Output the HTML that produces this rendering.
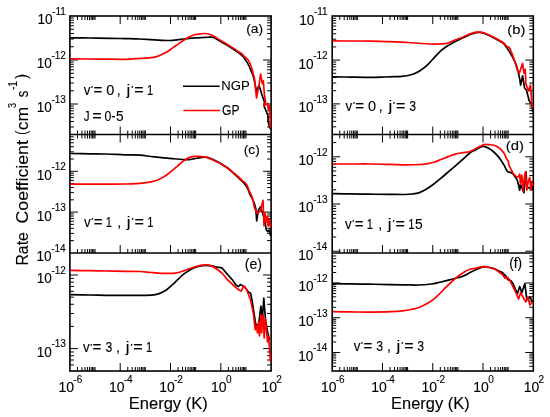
<!DOCTYPE html>
<html><head><meta charset="utf-8"><style>
html,body{margin:0;padding:0;background:#fff;width:550px;height:417px;overflow:hidden}
svg{display:block}
</style></head><body>
<svg width="550" height="417" viewBox="0 0 550 417" font-family='"Liberation Sans", "DejaVu Sans", sans-serif' fill="#000">
<rect width="550" height="417" fill="#fff"/>
<line x1="69.90" y1="127.01" x2="73.90" y2="127.01" stroke="#000" stroke-width="1.0"/>
<line x1="267.10" y1="127.01" x2="271.10" y2="127.01" stroke="#000" stroke-width="1.0"/>
<line x1="69.90" y1="121.51" x2="73.90" y2="121.51" stroke="#000" stroke-width="1.0"/>
<line x1="267.10" y1="121.51" x2="271.10" y2="121.51" stroke="#000" stroke-width="1.0"/>
<line x1="69.90" y1="117.25" x2="73.90" y2="117.25" stroke="#000" stroke-width="1.0"/>
<line x1="267.10" y1="117.25" x2="271.10" y2="117.25" stroke="#000" stroke-width="1.0"/>
<line x1="69.90" y1="113.76" x2="73.90" y2="113.76" stroke="#000" stroke-width="1.0"/>
<line x1="267.10" y1="113.76" x2="271.10" y2="113.76" stroke="#000" stroke-width="1.0"/>
<line x1="69.90" y1="110.82" x2="73.90" y2="110.82" stroke="#000" stroke-width="1.0"/>
<line x1="267.10" y1="110.82" x2="271.10" y2="110.82" stroke="#000" stroke-width="1.0"/>
<line x1="69.90" y1="108.26" x2="73.90" y2="108.26" stroke="#000" stroke-width="1.0"/>
<line x1="267.10" y1="108.26" x2="271.10" y2="108.26" stroke="#000" stroke-width="1.0"/>
<line x1="69.90" y1="106.01" x2="73.90" y2="106.01" stroke="#000" stroke-width="1.0"/>
<line x1="267.10" y1="106.01" x2="271.10" y2="106.01" stroke="#000" stroke-width="1.0"/>
<line x1="69.90" y1="104.00" x2="77.90" y2="104.00" stroke="#000" stroke-width="1.0"/>
<line x1="263.10" y1="104.00" x2="271.10" y2="104.00" stroke="#000" stroke-width="1.0"/>
<line x1="69.90" y1="90.75" x2="73.90" y2="90.75" stroke="#000" stroke-width="1.0"/>
<line x1="267.10" y1="90.75" x2="271.10" y2="90.75" stroke="#000" stroke-width="1.0"/>
<line x1="69.90" y1="83.01" x2="73.90" y2="83.01" stroke="#000" stroke-width="1.0"/>
<line x1="267.10" y1="83.01" x2="271.10" y2="83.01" stroke="#000" stroke-width="1.0"/>
<line x1="69.90" y1="77.51" x2="73.90" y2="77.51" stroke="#000" stroke-width="1.0"/>
<line x1="267.10" y1="77.51" x2="271.10" y2="77.51" stroke="#000" stroke-width="1.0"/>
<line x1="69.90" y1="73.25" x2="73.90" y2="73.25" stroke="#000" stroke-width="1.0"/>
<line x1="267.10" y1="73.25" x2="271.10" y2="73.25" stroke="#000" stroke-width="1.0"/>
<line x1="69.90" y1="69.76" x2="73.90" y2="69.76" stroke="#000" stroke-width="1.0"/>
<line x1="267.10" y1="69.76" x2="271.10" y2="69.76" stroke="#000" stroke-width="1.0"/>
<line x1="69.90" y1="66.82" x2="73.90" y2="66.82" stroke="#000" stroke-width="1.0"/>
<line x1="267.10" y1="66.82" x2="271.10" y2="66.82" stroke="#000" stroke-width="1.0"/>
<line x1="69.90" y1="64.26" x2="73.90" y2="64.26" stroke="#000" stroke-width="1.0"/>
<line x1="267.10" y1="64.26" x2="271.10" y2="64.26" stroke="#000" stroke-width="1.0"/>
<line x1="69.90" y1="62.01" x2="73.90" y2="62.01" stroke="#000" stroke-width="1.0"/>
<line x1="267.10" y1="62.01" x2="271.10" y2="62.01" stroke="#000" stroke-width="1.0"/>
<line x1="69.90" y1="60.00" x2="77.90" y2="60.00" stroke="#000" stroke-width="1.0"/>
<line x1="263.10" y1="60.00" x2="271.10" y2="60.00" stroke="#000" stroke-width="1.0"/>
<line x1="69.90" y1="46.75" x2="73.90" y2="46.75" stroke="#000" stroke-width="1.0"/>
<line x1="267.10" y1="46.75" x2="271.10" y2="46.75" stroke="#000" stroke-width="1.0"/>
<line x1="69.90" y1="39.01" x2="73.90" y2="39.01" stroke="#000" stroke-width="1.0"/>
<line x1="267.10" y1="39.01" x2="271.10" y2="39.01" stroke="#000" stroke-width="1.0"/>
<line x1="69.90" y1="33.51" x2="73.90" y2="33.51" stroke="#000" stroke-width="1.0"/>
<line x1="267.10" y1="33.51" x2="271.10" y2="33.51" stroke="#000" stroke-width="1.0"/>
<line x1="69.90" y1="29.25" x2="73.90" y2="29.25" stroke="#000" stroke-width="1.0"/>
<line x1="267.10" y1="29.25" x2="271.10" y2="29.25" stroke="#000" stroke-width="1.0"/>
<line x1="69.90" y1="25.76" x2="73.90" y2="25.76" stroke="#000" stroke-width="1.0"/>
<line x1="267.10" y1="25.76" x2="271.10" y2="25.76" stroke="#000" stroke-width="1.0"/>
<line x1="69.90" y1="22.82" x2="73.90" y2="22.82" stroke="#000" stroke-width="1.0"/>
<line x1="267.10" y1="22.82" x2="271.10" y2="22.82" stroke="#000" stroke-width="1.0"/>
<line x1="69.90" y1="20.26" x2="73.90" y2="20.26" stroke="#000" stroke-width="1.0"/>
<line x1="267.10" y1="20.26" x2="271.10" y2="20.26" stroke="#000" stroke-width="1.0"/>
<line x1="69.90" y1="18.01" x2="73.90" y2="18.01" stroke="#000" stroke-width="1.0"/>
<line x1="267.10" y1="18.01" x2="271.10" y2="18.01" stroke="#000" stroke-width="1.0"/>
<line x1="77.47" y1="134.50" x2="77.47" y2="130.50" stroke="#000" stroke-width="1.0"/>
<line x1="77.47" y1="16.00" x2="77.47" y2="20.00" stroke="#000" stroke-width="1.0"/>
<line x1="81.90" y1="134.50" x2="81.90" y2="130.50" stroke="#000" stroke-width="1.0"/>
<line x1="81.90" y1="16.00" x2="81.90" y2="20.00" stroke="#000" stroke-width="1.0"/>
<line x1="85.04" y1="134.50" x2="85.04" y2="130.50" stroke="#000" stroke-width="1.0"/>
<line x1="85.04" y1="16.00" x2="85.04" y2="20.00" stroke="#000" stroke-width="1.0"/>
<line x1="87.48" y1="134.50" x2="87.48" y2="130.50" stroke="#000" stroke-width="1.0"/>
<line x1="87.48" y1="16.00" x2="87.48" y2="20.00" stroke="#000" stroke-width="1.0"/>
<line x1="89.47" y1="134.50" x2="89.47" y2="130.50" stroke="#000" stroke-width="1.0"/>
<line x1="89.47" y1="16.00" x2="89.47" y2="20.00" stroke="#000" stroke-width="1.0"/>
<line x1="91.15" y1="134.50" x2="91.15" y2="130.50" stroke="#000" stroke-width="1.0"/>
<line x1="91.15" y1="16.00" x2="91.15" y2="20.00" stroke="#000" stroke-width="1.0"/>
<line x1="92.61" y1="134.50" x2="92.61" y2="130.50" stroke="#000" stroke-width="1.0"/>
<line x1="92.61" y1="16.00" x2="92.61" y2="20.00" stroke="#000" stroke-width="1.0"/>
<line x1="93.90" y1="134.50" x2="93.90" y2="130.50" stroke="#000" stroke-width="1.0"/>
<line x1="93.90" y1="16.00" x2="93.90" y2="20.00" stroke="#000" stroke-width="1.0"/>
<line x1="95.05" y1="134.50" x2="95.05" y2="130.50" stroke="#000" stroke-width="1.0"/>
<line x1="95.05" y1="16.00" x2="95.05" y2="20.00" stroke="#000" stroke-width="1.0"/>
<line x1="120.20" y1="134.50" x2="120.20" y2="126.50" stroke="#000" stroke-width="1.0"/>
<line x1="120.20" y1="16.00" x2="120.20" y2="24.00" stroke="#000" stroke-width="1.0"/>
<line x1="127.77" y1="134.50" x2="127.77" y2="130.50" stroke="#000" stroke-width="1.0"/>
<line x1="127.77" y1="16.00" x2="127.77" y2="20.00" stroke="#000" stroke-width="1.0"/>
<line x1="132.20" y1="134.50" x2="132.20" y2="130.50" stroke="#000" stroke-width="1.0"/>
<line x1="132.20" y1="16.00" x2="132.20" y2="20.00" stroke="#000" stroke-width="1.0"/>
<line x1="135.34" y1="134.50" x2="135.34" y2="130.50" stroke="#000" stroke-width="1.0"/>
<line x1="135.34" y1="16.00" x2="135.34" y2="20.00" stroke="#000" stroke-width="1.0"/>
<line x1="137.78" y1="134.50" x2="137.78" y2="130.50" stroke="#000" stroke-width="1.0"/>
<line x1="137.78" y1="16.00" x2="137.78" y2="20.00" stroke="#000" stroke-width="1.0"/>
<line x1="139.77" y1="134.50" x2="139.77" y2="130.50" stroke="#000" stroke-width="1.0"/>
<line x1="139.77" y1="16.00" x2="139.77" y2="20.00" stroke="#000" stroke-width="1.0"/>
<line x1="141.45" y1="134.50" x2="141.45" y2="130.50" stroke="#000" stroke-width="1.0"/>
<line x1="141.45" y1="16.00" x2="141.45" y2="20.00" stroke="#000" stroke-width="1.0"/>
<line x1="142.91" y1="134.50" x2="142.91" y2="130.50" stroke="#000" stroke-width="1.0"/>
<line x1="142.91" y1="16.00" x2="142.91" y2="20.00" stroke="#000" stroke-width="1.0"/>
<line x1="144.20" y1="134.50" x2="144.20" y2="130.50" stroke="#000" stroke-width="1.0"/>
<line x1="144.20" y1="16.00" x2="144.20" y2="20.00" stroke="#000" stroke-width="1.0"/>
<line x1="145.35" y1="134.50" x2="145.35" y2="130.50" stroke="#000" stroke-width="1.0"/>
<line x1="145.35" y1="16.00" x2="145.35" y2="20.00" stroke="#000" stroke-width="1.0"/>
<line x1="170.50" y1="134.50" x2="170.50" y2="126.50" stroke="#000" stroke-width="1.0"/>
<line x1="170.50" y1="16.00" x2="170.50" y2="24.00" stroke="#000" stroke-width="1.0"/>
<line x1="178.07" y1="134.50" x2="178.07" y2="130.50" stroke="#000" stroke-width="1.0"/>
<line x1="178.07" y1="16.00" x2="178.07" y2="20.00" stroke="#000" stroke-width="1.0"/>
<line x1="182.50" y1="134.50" x2="182.50" y2="130.50" stroke="#000" stroke-width="1.0"/>
<line x1="182.50" y1="16.00" x2="182.50" y2="20.00" stroke="#000" stroke-width="1.0"/>
<line x1="185.64" y1="134.50" x2="185.64" y2="130.50" stroke="#000" stroke-width="1.0"/>
<line x1="185.64" y1="16.00" x2="185.64" y2="20.00" stroke="#000" stroke-width="1.0"/>
<line x1="188.08" y1="134.50" x2="188.08" y2="130.50" stroke="#000" stroke-width="1.0"/>
<line x1="188.08" y1="16.00" x2="188.08" y2="20.00" stroke="#000" stroke-width="1.0"/>
<line x1="190.07" y1="134.50" x2="190.07" y2="130.50" stroke="#000" stroke-width="1.0"/>
<line x1="190.07" y1="16.00" x2="190.07" y2="20.00" stroke="#000" stroke-width="1.0"/>
<line x1="191.75" y1="134.50" x2="191.75" y2="130.50" stroke="#000" stroke-width="1.0"/>
<line x1="191.75" y1="16.00" x2="191.75" y2="20.00" stroke="#000" stroke-width="1.0"/>
<line x1="193.21" y1="134.50" x2="193.21" y2="130.50" stroke="#000" stroke-width="1.0"/>
<line x1="193.21" y1="16.00" x2="193.21" y2="20.00" stroke="#000" stroke-width="1.0"/>
<line x1="194.50" y1="134.50" x2="194.50" y2="130.50" stroke="#000" stroke-width="1.0"/>
<line x1="194.50" y1="16.00" x2="194.50" y2="20.00" stroke="#000" stroke-width="1.0"/>
<line x1="195.65" y1="134.50" x2="195.65" y2="130.50" stroke="#000" stroke-width="1.0"/>
<line x1="195.65" y1="16.00" x2="195.65" y2="20.00" stroke="#000" stroke-width="1.0"/>
<line x1="220.80" y1="134.50" x2="220.80" y2="126.50" stroke="#000" stroke-width="1.0"/>
<line x1="220.80" y1="16.00" x2="220.80" y2="24.00" stroke="#000" stroke-width="1.0"/>
<line x1="228.37" y1="134.50" x2="228.37" y2="130.50" stroke="#000" stroke-width="1.0"/>
<line x1="228.37" y1="16.00" x2="228.37" y2="20.00" stroke="#000" stroke-width="1.0"/>
<line x1="232.80" y1="134.50" x2="232.80" y2="130.50" stroke="#000" stroke-width="1.0"/>
<line x1="232.80" y1="16.00" x2="232.80" y2="20.00" stroke="#000" stroke-width="1.0"/>
<line x1="235.94" y1="134.50" x2="235.94" y2="130.50" stroke="#000" stroke-width="1.0"/>
<line x1="235.94" y1="16.00" x2="235.94" y2="20.00" stroke="#000" stroke-width="1.0"/>
<line x1="238.38" y1="134.50" x2="238.38" y2="130.50" stroke="#000" stroke-width="1.0"/>
<line x1="238.38" y1="16.00" x2="238.38" y2="20.00" stroke="#000" stroke-width="1.0"/>
<line x1="240.37" y1="134.50" x2="240.37" y2="130.50" stroke="#000" stroke-width="1.0"/>
<line x1="240.37" y1="16.00" x2="240.37" y2="20.00" stroke="#000" stroke-width="1.0"/>
<line x1="242.05" y1="134.50" x2="242.05" y2="130.50" stroke="#000" stroke-width="1.0"/>
<line x1="242.05" y1="16.00" x2="242.05" y2="20.00" stroke="#000" stroke-width="1.0"/>
<line x1="243.51" y1="134.50" x2="243.51" y2="130.50" stroke="#000" stroke-width="1.0"/>
<line x1="243.51" y1="16.00" x2="243.51" y2="20.00" stroke="#000" stroke-width="1.0"/>
<line x1="244.80" y1="134.50" x2="244.80" y2="130.50" stroke="#000" stroke-width="1.0"/>
<line x1="244.80" y1="16.00" x2="244.80" y2="20.00" stroke="#000" stroke-width="1.0"/>
<line x1="245.95" y1="134.50" x2="245.95" y2="130.50" stroke="#000" stroke-width="1.0"/>
<line x1="245.95" y1="16.00" x2="245.95" y2="20.00" stroke="#000" stroke-width="1.0"/>
<line x1="332.20" y1="126.80" x2="336.20" y2="126.80" stroke="#000" stroke-width="1.0"/>
<line x1="529.30" y1="126.80" x2="533.30" y2="126.80" stroke="#000" stroke-width="1.0"/>
<line x1="332.20" y1="121.33" x2="336.20" y2="121.33" stroke="#000" stroke-width="1.0"/>
<line x1="529.30" y1="121.33" x2="533.30" y2="121.33" stroke="#000" stroke-width="1.0"/>
<line x1="332.20" y1="117.09" x2="336.20" y2="117.09" stroke="#000" stroke-width="1.0"/>
<line x1="529.30" y1="117.09" x2="533.30" y2="117.09" stroke="#000" stroke-width="1.0"/>
<line x1="332.20" y1="113.62" x2="336.20" y2="113.62" stroke="#000" stroke-width="1.0"/>
<line x1="529.30" y1="113.62" x2="533.30" y2="113.62" stroke="#000" stroke-width="1.0"/>
<line x1="332.20" y1="110.68" x2="336.20" y2="110.68" stroke="#000" stroke-width="1.0"/>
<line x1="529.30" y1="110.68" x2="533.30" y2="110.68" stroke="#000" stroke-width="1.0"/>
<line x1="332.20" y1="108.14" x2="336.20" y2="108.14" stroke="#000" stroke-width="1.0"/>
<line x1="529.30" y1="108.14" x2="533.30" y2="108.14" stroke="#000" stroke-width="1.0"/>
<line x1="332.20" y1="105.90" x2="336.20" y2="105.90" stroke="#000" stroke-width="1.0"/>
<line x1="529.30" y1="105.90" x2="533.30" y2="105.90" stroke="#000" stroke-width="1.0"/>
<line x1="332.20" y1="103.90" x2="340.20" y2="103.90" stroke="#000" stroke-width="1.0"/>
<line x1="525.30" y1="103.90" x2="533.30" y2="103.90" stroke="#000" stroke-width="1.0"/>
<line x1="332.20" y1="90.71" x2="336.20" y2="90.71" stroke="#000" stroke-width="1.0"/>
<line x1="529.30" y1="90.71" x2="533.30" y2="90.71" stroke="#000" stroke-width="1.0"/>
<line x1="332.20" y1="83.00" x2="336.20" y2="83.00" stroke="#000" stroke-width="1.0"/>
<line x1="529.30" y1="83.00" x2="533.30" y2="83.00" stroke="#000" stroke-width="1.0"/>
<line x1="332.20" y1="77.53" x2="336.20" y2="77.53" stroke="#000" stroke-width="1.0"/>
<line x1="529.30" y1="77.53" x2="533.30" y2="77.53" stroke="#000" stroke-width="1.0"/>
<line x1="332.20" y1="73.29" x2="336.20" y2="73.29" stroke="#000" stroke-width="1.0"/>
<line x1="529.30" y1="73.29" x2="533.30" y2="73.29" stroke="#000" stroke-width="1.0"/>
<line x1="332.20" y1="69.82" x2="336.20" y2="69.82" stroke="#000" stroke-width="1.0"/>
<line x1="529.30" y1="69.82" x2="533.30" y2="69.82" stroke="#000" stroke-width="1.0"/>
<line x1="332.20" y1="66.88" x2="336.20" y2="66.88" stroke="#000" stroke-width="1.0"/>
<line x1="529.30" y1="66.88" x2="533.30" y2="66.88" stroke="#000" stroke-width="1.0"/>
<line x1="332.20" y1="64.34" x2="336.20" y2="64.34" stroke="#000" stroke-width="1.0"/>
<line x1="529.30" y1="64.34" x2="533.30" y2="64.34" stroke="#000" stroke-width="1.0"/>
<line x1="332.20" y1="62.10" x2="336.20" y2="62.10" stroke="#000" stroke-width="1.0"/>
<line x1="529.30" y1="62.10" x2="533.30" y2="62.10" stroke="#000" stroke-width="1.0"/>
<line x1="332.20" y1="60.10" x2="340.20" y2="60.10" stroke="#000" stroke-width="1.0"/>
<line x1="525.30" y1="60.10" x2="533.30" y2="60.10" stroke="#000" stroke-width="1.0"/>
<line x1="332.20" y1="46.91" x2="336.20" y2="46.91" stroke="#000" stroke-width="1.0"/>
<line x1="529.30" y1="46.91" x2="533.30" y2="46.91" stroke="#000" stroke-width="1.0"/>
<line x1="332.20" y1="39.20" x2="336.20" y2="39.20" stroke="#000" stroke-width="1.0"/>
<line x1="529.30" y1="39.20" x2="533.30" y2="39.20" stroke="#000" stroke-width="1.0"/>
<line x1="332.20" y1="33.73" x2="336.20" y2="33.73" stroke="#000" stroke-width="1.0"/>
<line x1="529.30" y1="33.73" x2="533.30" y2="33.73" stroke="#000" stroke-width="1.0"/>
<line x1="332.20" y1="29.49" x2="336.20" y2="29.49" stroke="#000" stroke-width="1.0"/>
<line x1="529.30" y1="29.49" x2="533.30" y2="29.49" stroke="#000" stroke-width="1.0"/>
<line x1="332.20" y1="26.02" x2="336.20" y2="26.02" stroke="#000" stroke-width="1.0"/>
<line x1="529.30" y1="26.02" x2="533.30" y2="26.02" stroke="#000" stroke-width="1.0"/>
<line x1="332.20" y1="23.08" x2="336.20" y2="23.08" stroke="#000" stroke-width="1.0"/>
<line x1="529.30" y1="23.08" x2="533.30" y2="23.08" stroke="#000" stroke-width="1.0"/>
<line x1="332.20" y1="20.54" x2="336.20" y2="20.54" stroke="#000" stroke-width="1.0"/>
<line x1="529.30" y1="20.54" x2="533.30" y2="20.54" stroke="#000" stroke-width="1.0"/>
<line x1="332.20" y1="18.30" x2="336.20" y2="18.30" stroke="#000" stroke-width="1.0"/>
<line x1="529.30" y1="18.30" x2="533.30" y2="18.30" stroke="#000" stroke-width="1.0"/>
<line x1="339.77" y1="134.50" x2="339.77" y2="130.50" stroke="#000" stroke-width="1.0"/>
<line x1="339.77" y1="16.00" x2="339.77" y2="20.00" stroke="#000" stroke-width="1.0"/>
<line x1="344.19" y1="134.50" x2="344.19" y2="130.50" stroke="#000" stroke-width="1.0"/>
<line x1="344.19" y1="16.00" x2="344.19" y2="20.00" stroke="#000" stroke-width="1.0"/>
<line x1="347.33" y1="134.50" x2="347.33" y2="130.50" stroke="#000" stroke-width="1.0"/>
<line x1="347.33" y1="16.00" x2="347.33" y2="20.00" stroke="#000" stroke-width="1.0"/>
<line x1="349.77" y1="134.50" x2="349.77" y2="130.50" stroke="#000" stroke-width="1.0"/>
<line x1="349.77" y1="16.00" x2="349.77" y2="20.00" stroke="#000" stroke-width="1.0"/>
<line x1="351.76" y1="134.50" x2="351.76" y2="130.50" stroke="#000" stroke-width="1.0"/>
<line x1="351.76" y1="16.00" x2="351.76" y2="20.00" stroke="#000" stroke-width="1.0"/>
<line x1="353.44" y1="134.50" x2="353.44" y2="130.50" stroke="#000" stroke-width="1.0"/>
<line x1="353.44" y1="16.00" x2="353.44" y2="20.00" stroke="#000" stroke-width="1.0"/>
<line x1="354.90" y1="134.50" x2="354.90" y2="130.50" stroke="#000" stroke-width="1.0"/>
<line x1="354.90" y1="16.00" x2="354.90" y2="20.00" stroke="#000" stroke-width="1.0"/>
<line x1="356.19" y1="134.50" x2="356.19" y2="130.50" stroke="#000" stroke-width="1.0"/>
<line x1="356.19" y1="16.00" x2="356.19" y2="20.00" stroke="#000" stroke-width="1.0"/>
<line x1="357.34" y1="134.50" x2="357.34" y2="130.50" stroke="#000" stroke-width="1.0"/>
<line x1="357.34" y1="16.00" x2="357.34" y2="20.00" stroke="#000" stroke-width="1.0"/>
<line x1="382.47" y1="134.50" x2="382.47" y2="126.50" stroke="#000" stroke-width="1.0"/>
<line x1="382.47" y1="16.00" x2="382.47" y2="24.00" stroke="#000" stroke-width="1.0"/>
<line x1="390.04" y1="134.50" x2="390.04" y2="130.50" stroke="#000" stroke-width="1.0"/>
<line x1="390.04" y1="16.00" x2="390.04" y2="20.00" stroke="#000" stroke-width="1.0"/>
<line x1="394.47" y1="134.50" x2="394.47" y2="130.50" stroke="#000" stroke-width="1.0"/>
<line x1="394.47" y1="16.00" x2="394.47" y2="20.00" stroke="#000" stroke-width="1.0"/>
<line x1="397.61" y1="134.50" x2="397.61" y2="130.50" stroke="#000" stroke-width="1.0"/>
<line x1="397.61" y1="16.00" x2="397.61" y2="20.00" stroke="#000" stroke-width="1.0"/>
<line x1="400.05" y1="134.50" x2="400.05" y2="130.50" stroke="#000" stroke-width="1.0"/>
<line x1="400.05" y1="16.00" x2="400.05" y2="20.00" stroke="#000" stroke-width="1.0"/>
<line x1="402.04" y1="134.50" x2="402.04" y2="130.50" stroke="#000" stroke-width="1.0"/>
<line x1="402.04" y1="16.00" x2="402.04" y2="20.00" stroke="#000" stroke-width="1.0"/>
<line x1="403.72" y1="134.50" x2="403.72" y2="130.50" stroke="#000" stroke-width="1.0"/>
<line x1="403.72" y1="16.00" x2="403.72" y2="20.00" stroke="#000" stroke-width="1.0"/>
<line x1="405.18" y1="134.50" x2="405.18" y2="130.50" stroke="#000" stroke-width="1.0"/>
<line x1="405.18" y1="16.00" x2="405.18" y2="20.00" stroke="#000" stroke-width="1.0"/>
<line x1="406.46" y1="134.50" x2="406.46" y2="130.50" stroke="#000" stroke-width="1.0"/>
<line x1="406.46" y1="16.00" x2="406.46" y2="20.00" stroke="#000" stroke-width="1.0"/>
<line x1="407.61" y1="134.50" x2="407.61" y2="130.50" stroke="#000" stroke-width="1.0"/>
<line x1="407.61" y1="16.00" x2="407.61" y2="20.00" stroke="#000" stroke-width="1.0"/>
<line x1="432.75" y1="134.50" x2="432.75" y2="126.50" stroke="#000" stroke-width="1.0"/>
<line x1="432.75" y1="16.00" x2="432.75" y2="24.00" stroke="#000" stroke-width="1.0"/>
<line x1="440.32" y1="134.50" x2="440.32" y2="130.50" stroke="#000" stroke-width="1.0"/>
<line x1="440.32" y1="16.00" x2="440.32" y2="20.00" stroke="#000" stroke-width="1.0"/>
<line x1="444.74" y1="134.50" x2="444.74" y2="130.50" stroke="#000" stroke-width="1.0"/>
<line x1="444.74" y1="16.00" x2="444.74" y2="20.00" stroke="#000" stroke-width="1.0"/>
<line x1="447.88" y1="134.50" x2="447.88" y2="130.50" stroke="#000" stroke-width="1.0"/>
<line x1="447.88" y1="16.00" x2="447.88" y2="20.00" stroke="#000" stroke-width="1.0"/>
<line x1="450.32" y1="134.50" x2="450.32" y2="130.50" stroke="#000" stroke-width="1.0"/>
<line x1="450.32" y1="16.00" x2="450.32" y2="20.00" stroke="#000" stroke-width="1.0"/>
<line x1="452.31" y1="134.50" x2="452.31" y2="130.50" stroke="#000" stroke-width="1.0"/>
<line x1="452.31" y1="16.00" x2="452.31" y2="20.00" stroke="#000" stroke-width="1.0"/>
<line x1="453.99" y1="134.50" x2="453.99" y2="130.50" stroke="#000" stroke-width="1.0"/>
<line x1="453.99" y1="16.00" x2="453.99" y2="20.00" stroke="#000" stroke-width="1.0"/>
<line x1="455.45" y1="134.50" x2="455.45" y2="130.50" stroke="#000" stroke-width="1.0"/>
<line x1="455.45" y1="16.00" x2="455.45" y2="20.00" stroke="#000" stroke-width="1.0"/>
<line x1="456.74" y1="134.50" x2="456.74" y2="130.50" stroke="#000" stroke-width="1.0"/>
<line x1="456.74" y1="16.00" x2="456.74" y2="20.00" stroke="#000" stroke-width="1.0"/>
<line x1="457.89" y1="134.50" x2="457.89" y2="130.50" stroke="#000" stroke-width="1.0"/>
<line x1="457.89" y1="16.00" x2="457.89" y2="20.00" stroke="#000" stroke-width="1.0"/>
<line x1="483.02" y1="134.50" x2="483.02" y2="126.50" stroke="#000" stroke-width="1.0"/>
<line x1="483.02" y1="16.00" x2="483.02" y2="24.00" stroke="#000" stroke-width="1.0"/>
<line x1="490.59" y1="134.50" x2="490.59" y2="130.50" stroke="#000" stroke-width="1.0"/>
<line x1="490.59" y1="16.00" x2="490.59" y2="20.00" stroke="#000" stroke-width="1.0"/>
<line x1="495.02" y1="134.50" x2="495.02" y2="130.50" stroke="#000" stroke-width="1.0"/>
<line x1="495.02" y1="16.00" x2="495.02" y2="20.00" stroke="#000" stroke-width="1.0"/>
<line x1="498.16" y1="134.50" x2="498.16" y2="130.50" stroke="#000" stroke-width="1.0"/>
<line x1="498.16" y1="16.00" x2="498.16" y2="20.00" stroke="#000" stroke-width="1.0"/>
<line x1="500.60" y1="134.50" x2="500.60" y2="130.50" stroke="#000" stroke-width="1.0"/>
<line x1="500.60" y1="16.00" x2="500.60" y2="20.00" stroke="#000" stroke-width="1.0"/>
<line x1="502.59" y1="134.50" x2="502.59" y2="130.50" stroke="#000" stroke-width="1.0"/>
<line x1="502.59" y1="16.00" x2="502.59" y2="20.00" stroke="#000" stroke-width="1.0"/>
<line x1="504.27" y1="134.50" x2="504.27" y2="130.50" stroke="#000" stroke-width="1.0"/>
<line x1="504.27" y1="16.00" x2="504.27" y2="20.00" stroke="#000" stroke-width="1.0"/>
<line x1="505.73" y1="134.50" x2="505.73" y2="130.50" stroke="#000" stroke-width="1.0"/>
<line x1="505.73" y1="16.00" x2="505.73" y2="20.00" stroke="#000" stroke-width="1.0"/>
<line x1="507.01" y1="134.50" x2="507.01" y2="130.50" stroke="#000" stroke-width="1.0"/>
<line x1="507.01" y1="16.00" x2="507.01" y2="20.00" stroke="#000" stroke-width="1.0"/>
<line x1="508.16" y1="134.50" x2="508.16" y2="130.50" stroke="#000" stroke-width="1.0"/>
<line x1="508.16" y1="16.00" x2="508.16" y2="20.00" stroke="#000" stroke-width="1.0"/>
<line x1="69.90" y1="240.62" x2="73.90" y2="240.62" stroke="#000" stroke-width="1.0"/>
<line x1="267.10" y1="240.62" x2="271.10" y2="240.62" stroke="#000" stroke-width="1.0"/>
<line x1="69.90" y1="233.43" x2="73.90" y2="233.43" stroke="#000" stroke-width="1.0"/>
<line x1="267.10" y1="233.43" x2="271.10" y2="233.43" stroke="#000" stroke-width="1.0"/>
<line x1="69.90" y1="228.34" x2="73.90" y2="228.34" stroke="#000" stroke-width="1.0"/>
<line x1="267.10" y1="228.34" x2="271.10" y2="228.34" stroke="#000" stroke-width="1.0"/>
<line x1="69.90" y1="224.38" x2="73.90" y2="224.38" stroke="#000" stroke-width="1.0"/>
<line x1="267.10" y1="224.38" x2="271.10" y2="224.38" stroke="#000" stroke-width="1.0"/>
<line x1="69.90" y1="221.15" x2="73.90" y2="221.15" stroke="#000" stroke-width="1.0"/>
<line x1="267.10" y1="221.15" x2="271.10" y2="221.15" stroke="#000" stroke-width="1.0"/>
<line x1="69.90" y1="218.42" x2="73.90" y2="218.42" stroke="#000" stroke-width="1.0"/>
<line x1="267.10" y1="218.42" x2="271.10" y2="218.42" stroke="#000" stroke-width="1.0"/>
<line x1="69.90" y1="216.05" x2="73.90" y2="216.05" stroke="#000" stroke-width="1.0"/>
<line x1="267.10" y1="216.05" x2="271.10" y2="216.05" stroke="#000" stroke-width="1.0"/>
<line x1="69.90" y1="213.97" x2="73.90" y2="213.97" stroke="#000" stroke-width="1.0"/>
<line x1="267.10" y1="213.97" x2="271.10" y2="213.97" stroke="#000" stroke-width="1.0"/>
<line x1="69.90" y1="212.10" x2="77.90" y2="212.10" stroke="#000" stroke-width="1.0"/>
<line x1="263.10" y1="212.10" x2="271.10" y2="212.10" stroke="#000" stroke-width="1.0"/>
<line x1="69.90" y1="199.82" x2="73.90" y2="199.82" stroke="#000" stroke-width="1.0"/>
<line x1="267.10" y1="199.82" x2="271.10" y2="199.82" stroke="#000" stroke-width="1.0"/>
<line x1="69.90" y1="192.63" x2="73.90" y2="192.63" stroke="#000" stroke-width="1.0"/>
<line x1="267.10" y1="192.63" x2="271.10" y2="192.63" stroke="#000" stroke-width="1.0"/>
<line x1="69.90" y1="187.54" x2="73.90" y2="187.54" stroke="#000" stroke-width="1.0"/>
<line x1="267.10" y1="187.54" x2="271.10" y2="187.54" stroke="#000" stroke-width="1.0"/>
<line x1="69.90" y1="183.58" x2="73.90" y2="183.58" stroke="#000" stroke-width="1.0"/>
<line x1="267.10" y1="183.58" x2="271.10" y2="183.58" stroke="#000" stroke-width="1.0"/>
<line x1="69.90" y1="180.35" x2="73.90" y2="180.35" stroke="#000" stroke-width="1.0"/>
<line x1="267.10" y1="180.35" x2="271.10" y2="180.35" stroke="#000" stroke-width="1.0"/>
<line x1="69.90" y1="177.62" x2="73.90" y2="177.62" stroke="#000" stroke-width="1.0"/>
<line x1="267.10" y1="177.62" x2="271.10" y2="177.62" stroke="#000" stroke-width="1.0"/>
<line x1="69.90" y1="175.25" x2="73.90" y2="175.25" stroke="#000" stroke-width="1.0"/>
<line x1="267.10" y1="175.25" x2="271.10" y2="175.25" stroke="#000" stroke-width="1.0"/>
<line x1="69.90" y1="173.17" x2="73.90" y2="173.17" stroke="#000" stroke-width="1.0"/>
<line x1="267.10" y1="173.17" x2="271.10" y2="173.17" stroke="#000" stroke-width="1.0"/>
<line x1="69.90" y1="171.30" x2="77.90" y2="171.30" stroke="#000" stroke-width="1.0"/>
<line x1="263.10" y1="171.30" x2="271.10" y2="171.30" stroke="#000" stroke-width="1.0"/>
<line x1="69.90" y1="159.02" x2="73.90" y2="159.02" stroke="#000" stroke-width="1.0"/>
<line x1="267.10" y1="159.02" x2="271.10" y2="159.02" stroke="#000" stroke-width="1.0"/>
<line x1="69.90" y1="151.83" x2="73.90" y2="151.83" stroke="#000" stroke-width="1.0"/>
<line x1="267.10" y1="151.83" x2="271.10" y2="151.83" stroke="#000" stroke-width="1.0"/>
<line x1="69.90" y1="146.74" x2="73.90" y2="146.74" stroke="#000" stroke-width="1.0"/>
<line x1="267.10" y1="146.74" x2="271.10" y2="146.74" stroke="#000" stroke-width="1.0"/>
<line x1="69.90" y1="142.78" x2="73.90" y2="142.78" stroke="#000" stroke-width="1.0"/>
<line x1="267.10" y1="142.78" x2="271.10" y2="142.78" stroke="#000" stroke-width="1.0"/>
<line x1="69.90" y1="139.55" x2="73.90" y2="139.55" stroke="#000" stroke-width="1.0"/>
<line x1="267.10" y1="139.55" x2="271.10" y2="139.55" stroke="#000" stroke-width="1.0"/>
<line x1="69.90" y1="136.82" x2="73.90" y2="136.82" stroke="#000" stroke-width="1.0"/>
<line x1="267.10" y1="136.82" x2="271.10" y2="136.82" stroke="#000" stroke-width="1.0"/>
<line x1="77.47" y1="253.00" x2="77.47" y2="249.00" stroke="#000" stroke-width="1.0"/>
<line x1="77.47" y1="134.50" x2="77.47" y2="138.50" stroke="#000" stroke-width="1.0"/>
<line x1="81.90" y1="253.00" x2="81.90" y2="249.00" stroke="#000" stroke-width="1.0"/>
<line x1="81.90" y1="134.50" x2="81.90" y2="138.50" stroke="#000" stroke-width="1.0"/>
<line x1="85.04" y1="253.00" x2="85.04" y2="249.00" stroke="#000" stroke-width="1.0"/>
<line x1="85.04" y1="134.50" x2="85.04" y2="138.50" stroke="#000" stroke-width="1.0"/>
<line x1="87.48" y1="253.00" x2="87.48" y2="249.00" stroke="#000" stroke-width="1.0"/>
<line x1="87.48" y1="134.50" x2="87.48" y2="138.50" stroke="#000" stroke-width="1.0"/>
<line x1="89.47" y1="253.00" x2="89.47" y2="249.00" stroke="#000" stroke-width="1.0"/>
<line x1="89.47" y1="134.50" x2="89.47" y2="138.50" stroke="#000" stroke-width="1.0"/>
<line x1="91.15" y1="253.00" x2="91.15" y2="249.00" stroke="#000" stroke-width="1.0"/>
<line x1="91.15" y1="134.50" x2="91.15" y2="138.50" stroke="#000" stroke-width="1.0"/>
<line x1="92.61" y1="253.00" x2="92.61" y2="249.00" stroke="#000" stroke-width="1.0"/>
<line x1="92.61" y1="134.50" x2="92.61" y2="138.50" stroke="#000" stroke-width="1.0"/>
<line x1="93.90" y1="253.00" x2="93.90" y2="249.00" stroke="#000" stroke-width="1.0"/>
<line x1="93.90" y1="134.50" x2="93.90" y2="138.50" stroke="#000" stroke-width="1.0"/>
<line x1="95.05" y1="253.00" x2="95.05" y2="249.00" stroke="#000" stroke-width="1.0"/>
<line x1="95.05" y1="134.50" x2="95.05" y2="138.50" stroke="#000" stroke-width="1.0"/>
<line x1="120.20" y1="253.00" x2="120.20" y2="245.00" stroke="#000" stroke-width="1.0"/>
<line x1="120.20" y1="134.50" x2="120.20" y2="142.50" stroke="#000" stroke-width="1.0"/>
<line x1="127.77" y1="253.00" x2="127.77" y2="249.00" stroke="#000" stroke-width="1.0"/>
<line x1="127.77" y1="134.50" x2="127.77" y2="138.50" stroke="#000" stroke-width="1.0"/>
<line x1="132.20" y1="253.00" x2="132.20" y2="249.00" stroke="#000" stroke-width="1.0"/>
<line x1="132.20" y1="134.50" x2="132.20" y2="138.50" stroke="#000" stroke-width="1.0"/>
<line x1="135.34" y1="253.00" x2="135.34" y2="249.00" stroke="#000" stroke-width="1.0"/>
<line x1="135.34" y1="134.50" x2="135.34" y2="138.50" stroke="#000" stroke-width="1.0"/>
<line x1="137.78" y1="253.00" x2="137.78" y2="249.00" stroke="#000" stroke-width="1.0"/>
<line x1="137.78" y1="134.50" x2="137.78" y2="138.50" stroke="#000" stroke-width="1.0"/>
<line x1="139.77" y1="253.00" x2="139.77" y2="249.00" stroke="#000" stroke-width="1.0"/>
<line x1="139.77" y1="134.50" x2="139.77" y2="138.50" stroke="#000" stroke-width="1.0"/>
<line x1="141.45" y1="253.00" x2="141.45" y2="249.00" stroke="#000" stroke-width="1.0"/>
<line x1="141.45" y1="134.50" x2="141.45" y2="138.50" stroke="#000" stroke-width="1.0"/>
<line x1="142.91" y1="253.00" x2="142.91" y2="249.00" stroke="#000" stroke-width="1.0"/>
<line x1="142.91" y1="134.50" x2="142.91" y2="138.50" stroke="#000" stroke-width="1.0"/>
<line x1="144.20" y1="253.00" x2="144.20" y2="249.00" stroke="#000" stroke-width="1.0"/>
<line x1="144.20" y1="134.50" x2="144.20" y2="138.50" stroke="#000" stroke-width="1.0"/>
<line x1="145.35" y1="253.00" x2="145.35" y2="249.00" stroke="#000" stroke-width="1.0"/>
<line x1="145.35" y1="134.50" x2="145.35" y2="138.50" stroke="#000" stroke-width="1.0"/>
<line x1="170.50" y1="253.00" x2="170.50" y2="245.00" stroke="#000" stroke-width="1.0"/>
<line x1="170.50" y1="134.50" x2="170.50" y2="142.50" stroke="#000" stroke-width="1.0"/>
<line x1="178.07" y1="253.00" x2="178.07" y2="249.00" stroke="#000" stroke-width="1.0"/>
<line x1="178.07" y1="134.50" x2="178.07" y2="138.50" stroke="#000" stroke-width="1.0"/>
<line x1="182.50" y1="253.00" x2="182.50" y2="249.00" stroke="#000" stroke-width="1.0"/>
<line x1="182.50" y1="134.50" x2="182.50" y2="138.50" stroke="#000" stroke-width="1.0"/>
<line x1="185.64" y1="253.00" x2="185.64" y2="249.00" stroke="#000" stroke-width="1.0"/>
<line x1="185.64" y1="134.50" x2="185.64" y2="138.50" stroke="#000" stroke-width="1.0"/>
<line x1="188.08" y1="253.00" x2="188.08" y2="249.00" stroke="#000" stroke-width="1.0"/>
<line x1="188.08" y1="134.50" x2="188.08" y2="138.50" stroke="#000" stroke-width="1.0"/>
<line x1="190.07" y1="253.00" x2="190.07" y2="249.00" stroke="#000" stroke-width="1.0"/>
<line x1="190.07" y1="134.50" x2="190.07" y2="138.50" stroke="#000" stroke-width="1.0"/>
<line x1="191.75" y1="253.00" x2="191.75" y2="249.00" stroke="#000" stroke-width="1.0"/>
<line x1="191.75" y1="134.50" x2="191.75" y2="138.50" stroke="#000" stroke-width="1.0"/>
<line x1="193.21" y1="253.00" x2="193.21" y2="249.00" stroke="#000" stroke-width="1.0"/>
<line x1="193.21" y1="134.50" x2="193.21" y2="138.50" stroke="#000" stroke-width="1.0"/>
<line x1="194.50" y1="253.00" x2="194.50" y2="249.00" stroke="#000" stroke-width="1.0"/>
<line x1="194.50" y1="134.50" x2="194.50" y2="138.50" stroke="#000" stroke-width="1.0"/>
<line x1="195.65" y1="253.00" x2="195.65" y2="249.00" stroke="#000" stroke-width="1.0"/>
<line x1="195.65" y1="134.50" x2="195.65" y2="138.50" stroke="#000" stroke-width="1.0"/>
<line x1="220.80" y1="253.00" x2="220.80" y2="245.00" stroke="#000" stroke-width="1.0"/>
<line x1="220.80" y1="134.50" x2="220.80" y2="142.50" stroke="#000" stroke-width="1.0"/>
<line x1="228.37" y1="253.00" x2="228.37" y2="249.00" stroke="#000" stroke-width="1.0"/>
<line x1="228.37" y1="134.50" x2="228.37" y2="138.50" stroke="#000" stroke-width="1.0"/>
<line x1="232.80" y1="253.00" x2="232.80" y2="249.00" stroke="#000" stroke-width="1.0"/>
<line x1="232.80" y1="134.50" x2="232.80" y2="138.50" stroke="#000" stroke-width="1.0"/>
<line x1="235.94" y1="253.00" x2="235.94" y2="249.00" stroke="#000" stroke-width="1.0"/>
<line x1="235.94" y1="134.50" x2="235.94" y2="138.50" stroke="#000" stroke-width="1.0"/>
<line x1="238.38" y1="253.00" x2="238.38" y2="249.00" stroke="#000" stroke-width="1.0"/>
<line x1="238.38" y1="134.50" x2="238.38" y2="138.50" stroke="#000" stroke-width="1.0"/>
<line x1="240.37" y1="253.00" x2="240.37" y2="249.00" stroke="#000" stroke-width="1.0"/>
<line x1="240.37" y1="134.50" x2="240.37" y2="138.50" stroke="#000" stroke-width="1.0"/>
<line x1="242.05" y1="253.00" x2="242.05" y2="249.00" stroke="#000" stroke-width="1.0"/>
<line x1="242.05" y1="134.50" x2="242.05" y2="138.50" stroke="#000" stroke-width="1.0"/>
<line x1="243.51" y1="253.00" x2="243.51" y2="249.00" stroke="#000" stroke-width="1.0"/>
<line x1="243.51" y1="134.50" x2="243.51" y2="138.50" stroke="#000" stroke-width="1.0"/>
<line x1="244.80" y1="253.00" x2="244.80" y2="249.00" stroke="#000" stroke-width="1.0"/>
<line x1="244.80" y1="134.50" x2="244.80" y2="138.50" stroke="#000" stroke-width="1.0"/>
<line x1="245.95" y1="253.00" x2="245.95" y2="249.00" stroke="#000" stroke-width="1.0"/>
<line x1="245.95" y1="134.50" x2="245.95" y2="138.50" stroke="#000" stroke-width="1.0"/>
<line x1="332.20" y1="251.20" x2="340.20" y2="251.20" stroke="#000" stroke-width="1.0"/>
<line x1="525.30" y1="251.20" x2="533.30" y2="251.20" stroke="#000" stroke-width="1.0"/>
<line x1="332.20" y1="236.99" x2="336.20" y2="236.99" stroke="#000" stroke-width="1.0"/>
<line x1="529.30" y1="236.99" x2="533.30" y2="236.99" stroke="#000" stroke-width="1.0"/>
<line x1="332.20" y1="228.68" x2="336.20" y2="228.68" stroke="#000" stroke-width="1.0"/>
<line x1="529.30" y1="228.68" x2="533.30" y2="228.68" stroke="#000" stroke-width="1.0"/>
<line x1="332.20" y1="222.78" x2="336.20" y2="222.78" stroke="#000" stroke-width="1.0"/>
<line x1="529.30" y1="222.78" x2="533.30" y2="222.78" stroke="#000" stroke-width="1.0"/>
<line x1="332.20" y1="218.21" x2="336.20" y2="218.21" stroke="#000" stroke-width="1.0"/>
<line x1="529.30" y1="218.21" x2="533.30" y2="218.21" stroke="#000" stroke-width="1.0"/>
<line x1="332.20" y1="214.47" x2="336.20" y2="214.47" stroke="#000" stroke-width="1.0"/>
<line x1="529.30" y1="214.47" x2="533.30" y2="214.47" stroke="#000" stroke-width="1.0"/>
<line x1="332.20" y1="211.31" x2="336.20" y2="211.31" stroke="#000" stroke-width="1.0"/>
<line x1="529.30" y1="211.31" x2="533.30" y2="211.31" stroke="#000" stroke-width="1.0"/>
<line x1="332.20" y1="208.57" x2="336.20" y2="208.57" stroke="#000" stroke-width="1.0"/>
<line x1="529.30" y1="208.57" x2="533.30" y2="208.57" stroke="#000" stroke-width="1.0"/>
<line x1="332.20" y1="206.16" x2="336.20" y2="206.16" stroke="#000" stroke-width="1.0"/>
<line x1="529.30" y1="206.16" x2="533.30" y2="206.16" stroke="#000" stroke-width="1.0"/>
<line x1="332.20" y1="204.00" x2="340.20" y2="204.00" stroke="#000" stroke-width="1.0"/>
<line x1="525.30" y1="204.00" x2="533.30" y2="204.00" stroke="#000" stroke-width="1.0"/>
<line x1="332.20" y1="189.79" x2="336.20" y2="189.79" stroke="#000" stroke-width="1.0"/>
<line x1="529.30" y1="189.79" x2="533.30" y2="189.79" stroke="#000" stroke-width="1.0"/>
<line x1="332.20" y1="181.48" x2="336.20" y2="181.48" stroke="#000" stroke-width="1.0"/>
<line x1="529.30" y1="181.48" x2="533.30" y2="181.48" stroke="#000" stroke-width="1.0"/>
<line x1="332.20" y1="175.58" x2="336.20" y2="175.58" stroke="#000" stroke-width="1.0"/>
<line x1="529.30" y1="175.58" x2="533.30" y2="175.58" stroke="#000" stroke-width="1.0"/>
<line x1="332.20" y1="171.01" x2="336.20" y2="171.01" stroke="#000" stroke-width="1.0"/>
<line x1="529.30" y1="171.01" x2="533.30" y2="171.01" stroke="#000" stroke-width="1.0"/>
<line x1="332.20" y1="167.27" x2="336.20" y2="167.27" stroke="#000" stroke-width="1.0"/>
<line x1="529.30" y1="167.27" x2="533.30" y2="167.27" stroke="#000" stroke-width="1.0"/>
<line x1="332.20" y1="164.11" x2="336.20" y2="164.11" stroke="#000" stroke-width="1.0"/>
<line x1="529.30" y1="164.11" x2="533.30" y2="164.11" stroke="#000" stroke-width="1.0"/>
<line x1="332.20" y1="161.37" x2="336.20" y2="161.37" stroke="#000" stroke-width="1.0"/>
<line x1="529.30" y1="161.37" x2="533.30" y2="161.37" stroke="#000" stroke-width="1.0"/>
<line x1="332.20" y1="158.96" x2="336.20" y2="158.96" stroke="#000" stroke-width="1.0"/>
<line x1="529.30" y1="158.96" x2="533.30" y2="158.96" stroke="#000" stroke-width="1.0"/>
<line x1="332.20" y1="156.80" x2="340.20" y2="156.80" stroke="#000" stroke-width="1.0"/>
<line x1="525.30" y1="156.80" x2="533.30" y2="156.80" stroke="#000" stroke-width="1.0"/>
<line x1="332.20" y1="142.59" x2="336.20" y2="142.59" stroke="#000" stroke-width="1.0"/>
<line x1="529.30" y1="142.59" x2="533.30" y2="142.59" stroke="#000" stroke-width="1.0"/>
<line x1="339.77" y1="253.00" x2="339.77" y2="249.00" stroke="#000" stroke-width="1.0"/>
<line x1="339.77" y1="134.50" x2="339.77" y2="138.50" stroke="#000" stroke-width="1.0"/>
<line x1="344.19" y1="253.00" x2="344.19" y2="249.00" stroke="#000" stroke-width="1.0"/>
<line x1="344.19" y1="134.50" x2="344.19" y2="138.50" stroke="#000" stroke-width="1.0"/>
<line x1="347.33" y1="253.00" x2="347.33" y2="249.00" stroke="#000" stroke-width="1.0"/>
<line x1="347.33" y1="134.50" x2="347.33" y2="138.50" stroke="#000" stroke-width="1.0"/>
<line x1="349.77" y1="253.00" x2="349.77" y2="249.00" stroke="#000" stroke-width="1.0"/>
<line x1="349.77" y1="134.50" x2="349.77" y2="138.50" stroke="#000" stroke-width="1.0"/>
<line x1="351.76" y1="253.00" x2="351.76" y2="249.00" stroke="#000" stroke-width="1.0"/>
<line x1="351.76" y1="134.50" x2="351.76" y2="138.50" stroke="#000" stroke-width="1.0"/>
<line x1="353.44" y1="253.00" x2="353.44" y2="249.00" stroke="#000" stroke-width="1.0"/>
<line x1="353.44" y1="134.50" x2="353.44" y2="138.50" stroke="#000" stroke-width="1.0"/>
<line x1="354.90" y1="253.00" x2="354.90" y2="249.00" stroke="#000" stroke-width="1.0"/>
<line x1="354.90" y1="134.50" x2="354.90" y2="138.50" stroke="#000" stroke-width="1.0"/>
<line x1="356.19" y1="253.00" x2="356.19" y2="249.00" stroke="#000" stroke-width="1.0"/>
<line x1="356.19" y1="134.50" x2="356.19" y2="138.50" stroke="#000" stroke-width="1.0"/>
<line x1="357.34" y1="253.00" x2="357.34" y2="249.00" stroke="#000" stroke-width="1.0"/>
<line x1="357.34" y1="134.50" x2="357.34" y2="138.50" stroke="#000" stroke-width="1.0"/>
<line x1="382.47" y1="253.00" x2="382.47" y2="245.00" stroke="#000" stroke-width="1.0"/>
<line x1="382.47" y1="134.50" x2="382.47" y2="142.50" stroke="#000" stroke-width="1.0"/>
<line x1="390.04" y1="253.00" x2="390.04" y2="249.00" stroke="#000" stroke-width="1.0"/>
<line x1="390.04" y1="134.50" x2="390.04" y2="138.50" stroke="#000" stroke-width="1.0"/>
<line x1="394.47" y1="253.00" x2="394.47" y2="249.00" stroke="#000" stroke-width="1.0"/>
<line x1="394.47" y1="134.50" x2="394.47" y2="138.50" stroke="#000" stroke-width="1.0"/>
<line x1="397.61" y1="253.00" x2="397.61" y2="249.00" stroke="#000" stroke-width="1.0"/>
<line x1="397.61" y1="134.50" x2="397.61" y2="138.50" stroke="#000" stroke-width="1.0"/>
<line x1="400.05" y1="253.00" x2="400.05" y2="249.00" stroke="#000" stroke-width="1.0"/>
<line x1="400.05" y1="134.50" x2="400.05" y2="138.50" stroke="#000" stroke-width="1.0"/>
<line x1="402.04" y1="253.00" x2="402.04" y2="249.00" stroke="#000" stroke-width="1.0"/>
<line x1="402.04" y1="134.50" x2="402.04" y2="138.50" stroke="#000" stroke-width="1.0"/>
<line x1="403.72" y1="253.00" x2="403.72" y2="249.00" stroke="#000" stroke-width="1.0"/>
<line x1="403.72" y1="134.50" x2="403.72" y2="138.50" stroke="#000" stroke-width="1.0"/>
<line x1="405.18" y1="253.00" x2="405.18" y2="249.00" stroke="#000" stroke-width="1.0"/>
<line x1="405.18" y1="134.50" x2="405.18" y2="138.50" stroke="#000" stroke-width="1.0"/>
<line x1="406.46" y1="253.00" x2="406.46" y2="249.00" stroke="#000" stroke-width="1.0"/>
<line x1="406.46" y1="134.50" x2="406.46" y2="138.50" stroke="#000" stroke-width="1.0"/>
<line x1="407.61" y1="253.00" x2="407.61" y2="249.00" stroke="#000" stroke-width="1.0"/>
<line x1="407.61" y1="134.50" x2="407.61" y2="138.50" stroke="#000" stroke-width="1.0"/>
<line x1="432.75" y1="253.00" x2="432.75" y2="245.00" stroke="#000" stroke-width="1.0"/>
<line x1="432.75" y1="134.50" x2="432.75" y2="142.50" stroke="#000" stroke-width="1.0"/>
<line x1="440.32" y1="253.00" x2="440.32" y2="249.00" stroke="#000" stroke-width="1.0"/>
<line x1="440.32" y1="134.50" x2="440.32" y2="138.50" stroke="#000" stroke-width="1.0"/>
<line x1="444.74" y1="253.00" x2="444.74" y2="249.00" stroke="#000" stroke-width="1.0"/>
<line x1="444.74" y1="134.50" x2="444.74" y2="138.50" stroke="#000" stroke-width="1.0"/>
<line x1="447.88" y1="253.00" x2="447.88" y2="249.00" stroke="#000" stroke-width="1.0"/>
<line x1="447.88" y1="134.50" x2="447.88" y2="138.50" stroke="#000" stroke-width="1.0"/>
<line x1="450.32" y1="253.00" x2="450.32" y2="249.00" stroke="#000" stroke-width="1.0"/>
<line x1="450.32" y1="134.50" x2="450.32" y2="138.50" stroke="#000" stroke-width="1.0"/>
<line x1="452.31" y1="253.00" x2="452.31" y2="249.00" stroke="#000" stroke-width="1.0"/>
<line x1="452.31" y1="134.50" x2="452.31" y2="138.50" stroke="#000" stroke-width="1.0"/>
<line x1="453.99" y1="253.00" x2="453.99" y2="249.00" stroke="#000" stroke-width="1.0"/>
<line x1="453.99" y1="134.50" x2="453.99" y2="138.50" stroke="#000" stroke-width="1.0"/>
<line x1="455.45" y1="253.00" x2="455.45" y2="249.00" stroke="#000" stroke-width="1.0"/>
<line x1="455.45" y1="134.50" x2="455.45" y2="138.50" stroke="#000" stroke-width="1.0"/>
<line x1="456.74" y1="253.00" x2="456.74" y2="249.00" stroke="#000" stroke-width="1.0"/>
<line x1="456.74" y1="134.50" x2="456.74" y2="138.50" stroke="#000" stroke-width="1.0"/>
<line x1="457.89" y1="253.00" x2="457.89" y2="249.00" stroke="#000" stroke-width="1.0"/>
<line x1="457.89" y1="134.50" x2="457.89" y2="138.50" stroke="#000" stroke-width="1.0"/>
<line x1="483.02" y1="253.00" x2="483.02" y2="245.00" stroke="#000" stroke-width="1.0"/>
<line x1="483.02" y1="134.50" x2="483.02" y2="142.50" stroke="#000" stroke-width="1.0"/>
<line x1="490.59" y1="253.00" x2="490.59" y2="249.00" stroke="#000" stroke-width="1.0"/>
<line x1="490.59" y1="134.50" x2="490.59" y2="138.50" stroke="#000" stroke-width="1.0"/>
<line x1="495.02" y1="253.00" x2="495.02" y2="249.00" stroke="#000" stroke-width="1.0"/>
<line x1="495.02" y1="134.50" x2="495.02" y2="138.50" stroke="#000" stroke-width="1.0"/>
<line x1="498.16" y1="253.00" x2="498.16" y2="249.00" stroke="#000" stroke-width="1.0"/>
<line x1="498.16" y1="134.50" x2="498.16" y2="138.50" stroke="#000" stroke-width="1.0"/>
<line x1="500.60" y1="253.00" x2="500.60" y2="249.00" stroke="#000" stroke-width="1.0"/>
<line x1="500.60" y1="134.50" x2="500.60" y2="138.50" stroke="#000" stroke-width="1.0"/>
<line x1="502.59" y1="253.00" x2="502.59" y2="249.00" stroke="#000" stroke-width="1.0"/>
<line x1="502.59" y1="134.50" x2="502.59" y2="138.50" stroke="#000" stroke-width="1.0"/>
<line x1="504.27" y1="253.00" x2="504.27" y2="249.00" stroke="#000" stroke-width="1.0"/>
<line x1="504.27" y1="134.50" x2="504.27" y2="138.50" stroke="#000" stroke-width="1.0"/>
<line x1="505.73" y1="253.00" x2="505.73" y2="249.00" stroke="#000" stroke-width="1.0"/>
<line x1="505.73" y1="134.50" x2="505.73" y2="138.50" stroke="#000" stroke-width="1.0"/>
<line x1="507.01" y1="253.00" x2="507.01" y2="249.00" stroke="#000" stroke-width="1.0"/>
<line x1="507.01" y1="134.50" x2="507.01" y2="138.50" stroke="#000" stroke-width="1.0"/>
<line x1="508.16" y1="253.00" x2="508.16" y2="249.00" stroke="#000" stroke-width="1.0"/>
<line x1="508.16" y1="134.50" x2="508.16" y2="138.50" stroke="#000" stroke-width="1.0"/>
<line x1="69.90" y1="364.93" x2="73.90" y2="364.93" stroke="#000" stroke-width="1.0"/>
<line x1="267.10" y1="364.93" x2="271.10" y2="364.93" stroke="#000" stroke-width="1.0"/>
<line x1="69.90" y1="360.00" x2="73.90" y2="360.00" stroke="#000" stroke-width="1.0"/>
<line x1="267.10" y1="360.00" x2="271.10" y2="360.00" stroke="#000" stroke-width="1.0"/>
<line x1="69.90" y1="355.73" x2="73.90" y2="355.73" stroke="#000" stroke-width="1.0"/>
<line x1="267.10" y1="355.73" x2="271.10" y2="355.73" stroke="#000" stroke-width="1.0"/>
<line x1="69.90" y1="351.97" x2="73.90" y2="351.97" stroke="#000" stroke-width="1.0"/>
<line x1="267.10" y1="351.97" x2="271.10" y2="351.97" stroke="#000" stroke-width="1.0"/>
<line x1="69.90" y1="348.60" x2="77.90" y2="348.60" stroke="#000" stroke-width="1.0"/>
<line x1="263.10" y1="348.60" x2="271.10" y2="348.60" stroke="#000" stroke-width="1.0"/>
<line x1="69.90" y1="326.44" x2="73.90" y2="326.44" stroke="#000" stroke-width="1.0"/>
<line x1="267.10" y1="326.44" x2="271.10" y2="326.44" stroke="#000" stroke-width="1.0"/>
<line x1="69.90" y1="313.48" x2="73.90" y2="313.48" stroke="#000" stroke-width="1.0"/>
<line x1="267.10" y1="313.48" x2="271.10" y2="313.48" stroke="#000" stroke-width="1.0"/>
<line x1="69.90" y1="304.29" x2="73.90" y2="304.29" stroke="#000" stroke-width="1.0"/>
<line x1="267.10" y1="304.29" x2="271.10" y2="304.29" stroke="#000" stroke-width="1.0"/>
<line x1="69.90" y1="297.16" x2="73.90" y2="297.16" stroke="#000" stroke-width="1.0"/>
<line x1="267.10" y1="297.16" x2="271.10" y2="297.16" stroke="#000" stroke-width="1.0"/>
<line x1="69.90" y1="291.33" x2="73.90" y2="291.33" stroke="#000" stroke-width="1.0"/>
<line x1="267.10" y1="291.33" x2="271.10" y2="291.33" stroke="#000" stroke-width="1.0"/>
<line x1="69.90" y1="286.40" x2="73.90" y2="286.40" stroke="#000" stroke-width="1.0"/>
<line x1="267.10" y1="286.40" x2="271.10" y2="286.40" stroke="#000" stroke-width="1.0"/>
<line x1="69.90" y1="282.13" x2="73.90" y2="282.13" stroke="#000" stroke-width="1.0"/>
<line x1="267.10" y1="282.13" x2="271.10" y2="282.13" stroke="#000" stroke-width="1.0"/>
<line x1="69.90" y1="278.37" x2="73.90" y2="278.37" stroke="#000" stroke-width="1.0"/>
<line x1="267.10" y1="278.37" x2="271.10" y2="278.37" stroke="#000" stroke-width="1.0"/>
<line x1="69.90" y1="275.00" x2="77.90" y2="275.00" stroke="#000" stroke-width="1.0"/>
<line x1="263.10" y1="275.00" x2="271.10" y2="275.00" stroke="#000" stroke-width="1.0"/>
<line x1="77.47" y1="371.00" x2="77.47" y2="367.00" stroke="#000" stroke-width="1.0"/>
<line x1="81.90" y1="371.00" x2="81.90" y2="367.00" stroke="#000" stroke-width="1.0"/>
<line x1="85.04" y1="371.00" x2="85.04" y2="367.00" stroke="#000" stroke-width="1.0"/>
<line x1="87.48" y1="371.00" x2="87.48" y2="367.00" stroke="#000" stroke-width="1.0"/>
<line x1="89.47" y1="371.00" x2="89.47" y2="367.00" stroke="#000" stroke-width="1.0"/>
<line x1="91.15" y1="371.00" x2="91.15" y2="367.00" stroke="#000" stroke-width="1.0"/>
<line x1="92.61" y1="371.00" x2="92.61" y2="367.00" stroke="#000" stroke-width="1.0"/>
<line x1="93.90" y1="371.00" x2="93.90" y2="367.00" stroke="#000" stroke-width="1.0"/>
<line x1="95.05" y1="371.00" x2="95.05" y2="367.00" stroke="#000" stroke-width="1.0"/>
<line x1="120.20" y1="371.00" x2="120.20" y2="363.00" stroke="#000" stroke-width="1.0"/>
<line x1="127.77" y1="371.00" x2="127.77" y2="367.00" stroke="#000" stroke-width="1.0"/>
<line x1="132.20" y1="371.00" x2="132.20" y2="367.00" stroke="#000" stroke-width="1.0"/>
<line x1="135.34" y1="371.00" x2="135.34" y2="367.00" stroke="#000" stroke-width="1.0"/>
<line x1="137.78" y1="371.00" x2="137.78" y2="367.00" stroke="#000" stroke-width="1.0"/>
<line x1="139.77" y1="371.00" x2="139.77" y2="367.00" stroke="#000" stroke-width="1.0"/>
<line x1="141.45" y1="371.00" x2="141.45" y2="367.00" stroke="#000" stroke-width="1.0"/>
<line x1="142.91" y1="371.00" x2="142.91" y2="367.00" stroke="#000" stroke-width="1.0"/>
<line x1="144.20" y1="371.00" x2="144.20" y2="367.00" stroke="#000" stroke-width="1.0"/>
<line x1="145.35" y1="371.00" x2="145.35" y2="367.00" stroke="#000" stroke-width="1.0"/>
<line x1="170.50" y1="371.00" x2="170.50" y2="363.00" stroke="#000" stroke-width="1.0"/>
<line x1="178.07" y1="371.00" x2="178.07" y2="367.00" stroke="#000" stroke-width="1.0"/>
<line x1="182.50" y1="371.00" x2="182.50" y2="367.00" stroke="#000" stroke-width="1.0"/>
<line x1="185.64" y1="371.00" x2="185.64" y2="367.00" stroke="#000" stroke-width="1.0"/>
<line x1="188.08" y1="371.00" x2="188.08" y2="367.00" stroke="#000" stroke-width="1.0"/>
<line x1="190.07" y1="371.00" x2="190.07" y2="367.00" stroke="#000" stroke-width="1.0"/>
<line x1="191.75" y1="371.00" x2="191.75" y2="367.00" stroke="#000" stroke-width="1.0"/>
<line x1="193.21" y1="371.00" x2="193.21" y2="367.00" stroke="#000" stroke-width="1.0"/>
<line x1="194.50" y1="371.00" x2="194.50" y2="367.00" stroke="#000" stroke-width="1.0"/>
<line x1="195.65" y1="371.00" x2="195.65" y2="367.00" stroke="#000" stroke-width="1.0"/>
<line x1="220.80" y1="371.00" x2="220.80" y2="363.00" stroke="#000" stroke-width="1.0"/>
<line x1="228.37" y1="371.00" x2="228.37" y2="367.00" stroke="#000" stroke-width="1.0"/>
<line x1="232.80" y1="371.00" x2="232.80" y2="367.00" stroke="#000" stroke-width="1.0"/>
<line x1="235.94" y1="371.00" x2="235.94" y2="367.00" stroke="#000" stroke-width="1.0"/>
<line x1="238.38" y1="371.00" x2="238.38" y2="367.00" stroke="#000" stroke-width="1.0"/>
<line x1="240.37" y1="371.00" x2="240.37" y2="367.00" stroke="#000" stroke-width="1.0"/>
<line x1="242.05" y1="371.00" x2="242.05" y2="367.00" stroke="#000" stroke-width="1.0"/>
<line x1="243.51" y1="371.00" x2="243.51" y2="367.00" stroke="#000" stroke-width="1.0"/>
<line x1="244.80" y1="371.00" x2="244.80" y2="367.00" stroke="#000" stroke-width="1.0"/>
<line x1="245.95" y1="371.00" x2="245.95" y2="367.00" stroke="#000" stroke-width="1.0"/>
<line x1="332.20" y1="366.33" x2="336.20" y2="366.33" stroke="#000" stroke-width="1.0"/>
<line x1="529.30" y1="366.33" x2="533.30" y2="366.33" stroke="#000" stroke-width="1.0"/>
<line x1="332.20" y1="362.96" x2="336.20" y2="362.96" stroke="#000" stroke-width="1.0"/>
<line x1="529.30" y1="362.96" x2="533.30" y2="362.96" stroke="#000" stroke-width="1.0"/>
<line x1="332.20" y1="360.21" x2="336.20" y2="360.21" stroke="#000" stroke-width="1.0"/>
<line x1="529.30" y1="360.21" x2="533.30" y2="360.21" stroke="#000" stroke-width="1.0"/>
<line x1="332.20" y1="357.88" x2="336.20" y2="357.88" stroke="#000" stroke-width="1.0"/>
<line x1="529.30" y1="357.88" x2="533.30" y2="357.88" stroke="#000" stroke-width="1.0"/>
<line x1="332.20" y1="355.87" x2="336.20" y2="355.87" stroke="#000" stroke-width="1.0"/>
<line x1="529.30" y1="355.87" x2="533.30" y2="355.87" stroke="#000" stroke-width="1.0"/>
<line x1="332.20" y1="354.09" x2="336.20" y2="354.09" stroke="#000" stroke-width="1.0"/>
<line x1="529.30" y1="354.09" x2="533.30" y2="354.09" stroke="#000" stroke-width="1.0"/>
<line x1="332.20" y1="352.50" x2="340.20" y2="352.50" stroke="#000" stroke-width="1.0"/>
<line x1="525.30" y1="352.50" x2="533.30" y2="352.50" stroke="#000" stroke-width="1.0"/>
<line x1="332.20" y1="342.04" x2="336.20" y2="342.04" stroke="#000" stroke-width="1.0"/>
<line x1="529.30" y1="342.04" x2="533.30" y2="342.04" stroke="#000" stroke-width="1.0"/>
<line x1="332.20" y1="335.92" x2="336.20" y2="335.92" stroke="#000" stroke-width="1.0"/>
<line x1="529.30" y1="335.92" x2="533.30" y2="335.92" stroke="#000" stroke-width="1.0"/>
<line x1="332.20" y1="331.58" x2="336.20" y2="331.58" stroke="#000" stroke-width="1.0"/>
<line x1="529.30" y1="331.58" x2="533.30" y2="331.58" stroke="#000" stroke-width="1.0"/>
<line x1="332.20" y1="328.21" x2="336.20" y2="328.21" stroke="#000" stroke-width="1.0"/>
<line x1="529.30" y1="328.21" x2="533.30" y2="328.21" stroke="#000" stroke-width="1.0"/>
<line x1="332.20" y1="325.46" x2="336.20" y2="325.46" stroke="#000" stroke-width="1.0"/>
<line x1="529.30" y1="325.46" x2="533.30" y2="325.46" stroke="#000" stroke-width="1.0"/>
<line x1="332.20" y1="323.13" x2="336.20" y2="323.13" stroke="#000" stroke-width="1.0"/>
<line x1="529.30" y1="323.13" x2="533.30" y2="323.13" stroke="#000" stroke-width="1.0"/>
<line x1="332.20" y1="321.12" x2="336.20" y2="321.12" stroke="#000" stroke-width="1.0"/>
<line x1="529.30" y1="321.12" x2="533.30" y2="321.12" stroke="#000" stroke-width="1.0"/>
<line x1="332.20" y1="319.34" x2="336.20" y2="319.34" stroke="#000" stroke-width="1.0"/>
<line x1="529.30" y1="319.34" x2="533.30" y2="319.34" stroke="#000" stroke-width="1.0"/>
<line x1="332.20" y1="317.75" x2="340.20" y2="317.75" stroke="#000" stroke-width="1.0"/>
<line x1="525.30" y1="317.75" x2="533.30" y2="317.75" stroke="#000" stroke-width="1.0"/>
<line x1="332.20" y1="307.29" x2="336.20" y2="307.29" stroke="#000" stroke-width="1.0"/>
<line x1="529.30" y1="307.29" x2="533.30" y2="307.29" stroke="#000" stroke-width="1.0"/>
<line x1="332.20" y1="301.17" x2="336.20" y2="301.17" stroke="#000" stroke-width="1.0"/>
<line x1="529.30" y1="301.17" x2="533.30" y2="301.17" stroke="#000" stroke-width="1.0"/>
<line x1="332.20" y1="296.83" x2="336.20" y2="296.83" stroke="#000" stroke-width="1.0"/>
<line x1="529.30" y1="296.83" x2="533.30" y2="296.83" stroke="#000" stroke-width="1.0"/>
<line x1="332.20" y1="293.46" x2="336.20" y2="293.46" stroke="#000" stroke-width="1.0"/>
<line x1="529.30" y1="293.46" x2="533.30" y2="293.46" stroke="#000" stroke-width="1.0"/>
<line x1="332.20" y1="290.71" x2="336.20" y2="290.71" stroke="#000" stroke-width="1.0"/>
<line x1="529.30" y1="290.71" x2="533.30" y2="290.71" stroke="#000" stroke-width="1.0"/>
<line x1="332.20" y1="288.38" x2="336.20" y2="288.38" stroke="#000" stroke-width="1.0"/>
<line x1="529.30" y1="288.38" x2="533.30" y2="288.38" stroke="#000" stroke-width="1.0"/>
<line x1="332.20" y1="286.37" x2="336.20" y2="286.37" stroke="#000" stroke-width="1.0"/>
<line x1="529.30" y1="286.37" x2="533.30" y2="286.37" stroke="#000" stroke-width="1.0"/>
<line x1="332.20" y1="284.59" x2="336.20" y2="284.59" stroke="#000" stroke-width="1.0"/>
<line x1="529.30" y1="284.59" x2="533.30" y2="284.59" stroke="#000" stroke-width="1.0"/>
<line x1="332.20" y1="283.00" x2="340.20" y2="283.00" stroke="#000" stroke-width="1.0"/>
<line x1="525.30" y1="283.00" x2="533.30" y2="283.00" stroke="#000" stroke-width="1.0"/>
<line x1="332.20" y1="272.54" x2="336.20" y2="272.54" stroke="#000" stroke-width="1.0"/>
<line x1="529.30" y1="272.54" x2="533.30" y2="272.54" stroke="#000" stroke-width="1.0"/>
<line x1="332.20" y1="266.42" x2="336.20" y2="266.42" stroke="#000" stroke-width="1.0"/>
<line x1="529.30" y1="266.42" x2="533.30" y2="266.42" stroke="#000" stroke-width="1.0"/>
<line x1="332.20" y1="262.08" x2="336.20" y2="262.08" stroke="#000" stroke-width="1.0"/>
<line x1="529.30" y1="262.08" x2="533.30" y2="262.08" stroke="#000" stroke-width="1.0"/>
<line x1="332.20" y1="258.71" x2="336.20" y2="258.71" stroke="#000" stroke-width="1.0"/>
<line x1="529.30" y1="258.71" x2="533.30" y2="258.71" stroke="#000" stroke-width="1.0"/>
<line x1="332.20" y1="255.96" x2="336.20" y2="255.96" stroke="#000" stroke-width="1.0"/>
<line x1="529.30" y1="255.96" x2="533.30" y2="255.96" stroke="#000" stroke-width="1.0"/>
<line x1="339.77" y1="371.00" x2="339.77" y2="367.00" stroke="#000" stroke-width="1.0"/>
<line x1="344.19" y1="371.00" x2="344.19" y2="367.00" stroke="#000" stroke-width="1.0"/>
<line x1="347.33" y1="371.00" x2="347.33" y2="367.00" stroke="#000" stroke-width="1.0"/>
<line x1="349.77" y1="371.00" x2="349.77" y2="367.00" stroke="#000" stroke-width="1.0"/>
<line x1="351.76" y1="371.00" x2="351.76" y2="367.00" stroke="#000" stroke-width="1.0"/>
<line x1="353.44" y1="371.00" x2="353.44" y2="367.00" stroke="#000" stroke-width="1.0"/>
<line x1="354.90" y1="371.00" x2="354.90" y2="367.00" stroke="#000" stroke-width="1.0"/>
<line x1="356.19" y1="371.00" x2="356.19" y2="367.00" stroke="#000" stroke-width="1.0"/>
<line x1="357.34" y1="371.00" x2="357.34" y2="367.00" stroke="#000" stroke-width="1.0"/>
<line x1="382.47" y1="371.00" x2="382.47" y2="363.00" stroke="#000" stroke-width="1.0"/>
<line x1="390.04" y1="371.00" x2="390.04" y2="367.00" stroke="#000" stroke-width="1.0"/>
<line x1="394.47" y1="371.00" x2="394.47" y2="367.00" stroke="#000" stroke-width="1.0"/>
<line x1="397.61" y1="371.00" x2="397.61" y2="367.00" stroke="#000" stroke-width="1.0"/>
<line x1="400.05" y1="371.00" x2="400.05" y2="367.00" stroke="#000" stroke-width="1.0"/>
<line x1="402.04" y1="371.00" x2="402.04" y2="367.00" stroke="#000" stroke-width="1.0"/>
<line x1="403.72" y1="371.00" x2="403.72" y2="367.00" stroke="#000" stroke-width="1.0"/>
<line x1="405.18" y1="371.00" x2="405.18" y2="367.00" stroke="#000" stroke-width="1.0"/>
<line x1="406.46" y1="371.00" x2="406.46" y2="367.00" stroke="#000" stroke-width="1.0"/>
<line x1="407.61" y1="371.00" x2="407.61" y2="367.00" stroke="#000" stroke-width="1.0"/>
<line x1="432.75" y1="371.00" x2="432.75" y2="363.00" stroke="#000" stroke-width="1.0"/>
<line x1="440.32" y1="371.00" x2="440.32" y2="367.00" stroke="#000" stroke-width="1.0"/>
<line x1="444.74" y1="371.00" x2="444.74" y2="367.00" stroke="#000" stroke-width="1.0"/>
<line x1="447.88" y1="371.00" x2="447.88" y2="367.00" stroke="#000" stroke-width="1.0"/>
<line x1="450.32" y1="371.00" x2="450.32" y2="367.00" stroke="#000" stroke-width="1.0"/>
<line x1="452.31" y1="371.00" x2="452.31" y2="367.00" stroke="#000" stroke-width="1.0"/>
<line x1="453.99" y1="371.00" x2="453.99" y2="367.00" stroke="#000" stroke-width="1.0"/>
<line x1="455.45" y1="371.00" x2="455.45" y2="367.00" stroke="#000" stroke-width="1.0"/>
<line x1="456.74" y1="371.00" x2="456.74" y2="367.00" stroke="#000" stroke-width="1.0"/>
<line x1="457.89" y1="371.00" x2="457.89" y2="367.00" stroke="#000" stroke-width="1.0"/>
<line x1="483.02" y1="371.00" x2="483.02" y2="363.00" stroke="#000" stroke-width="1.0"/>
<line x1="490.59" y1="371.00" x2="490.59" y2="367.00" stroke="#000" stroke-width="1.0"/>
<line x1="495.02" y1="371.00" x2="495.02" y2="367.00" stroke="#000" stroke-width="1.0"/>
<line x1="498.16" y1="371.00" x2="498.16" y2="367.00" stroke="#000" stroke-width="1.0"/>
<line x1="500.60" y1="371.00" x2="500.60" y2="367.00" stroke="#000" stroke-width="1.0"/>
<line x1="502.59" y1="371.00" x2="502.59" y2="367.00" stroke="#000" stroke-width="1.0"/>
<line x1="504.27" y1="371.00" x2="504.27" y2="367.00" stroke="#000" stroke-width="1.0"/>
<line x1="505.73" y1="371.00" x2="505.73" y2="367.00" stroke="#000" stroke-width="1.0"/>
<line x1="507.01" y1="371.00" x2="507.01" y2="367.00" stroke="#000" stroke-width="1.0"/>
<line x1="508.16" y1="371.00" x2="508.16" y2="367.00" stroke="#000" stroke-width="1.0"/>
<rect x="69.90" y="16.00" width="201.20" height="355.00" fill="none" stroke="#000" stroke-width="1.6"/>
<line x1="69.90" y1="134.50" x2="271.10" y2="134.50" stroke="#000" stroke-width="1.4"/>
<line x1="69.90" y1="253.00" x2="271.10" y2="253.00" stroke="#000" stroke-width="1.4"/>
<rect x="332.20" y="16.00" width="201.10" height="355.00" fill="none" stroke="#000" stroke-width="1.6"/>
<line x1="332.20" y1="134.50" x2="533.30" y2="134.50" stroke="#000" stroke-width="1.4"/>
<line x1="332.20" y1="253.00" x2="533.30" y2="253.00" stroke="#000" stroke-width="1.4"/>
<line x1="183.00" y1="86.30" x2="219.60" y2="86.30" stroke="#000" stroke-width="1.4"/>
<line x1="183.40" y1="110.60" x2="220.10" y2="110.60" stroke="#ff0000" stroke-width="1.5"/>
<path d="M70.60,37.90 C73.83,37.92 83.43,37.93 90.00,38.00 C96.57,38.07 104.17,38.20 110.00,38.30 C115.83,38.40 120.00,38.48 125.00,38.60 C130.00,38.72 135.68,38.82 140.00,39.00 C144.32,39.18 147.27,39.48 150.90,39.70 C154.53,39.92 159.07,40.17 161.80,40.30 C164.53,40.43 165.48,40.50 167.30,40.50 C169.12,40.50 170.88,40.43 172.70,40.30 C174.52,40.17 176.38,39.92 178.20,39.70 C180.02,39.48 181.78,39.23 183.60,39.00 C185.42,38.77 187.28,38.48 189.10,38.30 C190.92,38.12 192.60,38.00 194.50,37.90 C196.40,37.80 198.60,37.80 200.50,37.70 C202.40,37.60 204.08,37.38 205.90,37.30 C207.72,37.22 209.95,37.10 211.40,37.20 C212.85,37.30 213.70,37.57 214.60,37.90 C215.50,38.23 215.52,38.45 216.80,39.20 C218.08,39.95 220.48,41.35 222.30,42.40 C224.12,43.45 225.88,44.40 227.70,45.50 C229.52,46.60 231.38,47.78 233.20,49.00 C235.02,50.22 237.15,51.72 238.60,52.80 C240.05,53.88 240.80,54.40 241.90,55.50 C243.00,56.60 244.30,58.22 245.20,59.40 C246.10,60.58 246.58,61.33 247.30,62.60 C248.02,63.87 248.95,65.78 249.50,67.00 C250.05,68.22 250.08,68.67 250.60,69.90 C251.12,71.13 251.98,72.67 252.60,74.40 C253.22,76.13 253.65,77.37 254.30,80.30 L256.50,92.00 L258.70,85.80 L260.00,88.00 L262.00,95.00 L264.40,101.60 L264.30,106.70 L266.40,111.80 L268.10,116.00 L268.10,121.80 L269.70,126.90 L270.60,129.40" fill="none" stroke="#000" stroke-width="1.7" stroke-linejoin="round"/>
<path d="M70.60,58.90 C75.50,58.93 90.93,59.03 100.00,59.10 C109.07,59.17 118.33,59.43 125.00,59.30 C131.67,59.17 135.68,58.57 140.00,58.30 C144.32,58.03 148.17,57.98 150.90,57.70 C153.63,57.42 154.58,57.15 156.40,56.60 C158.22,56.05 159.98,55.22 161.80,54.40 C163.62,53.58 165.48,52.78 167.30,51.70 C169.12,50.62 170.88,49.17 172.70,47.90 C174.52,46.63 176.38,45.37 178.20,44.10 C180.02,42.83 181.78,41.48 183.60,40.30 C185.42,39.12 187.28,37.92 189.10,37.00 C190.92,36.08 192.60,35.32 194.50,34.80 C196.40,34.28 198.78,34.12 200.50,33.90 C202.22,33.68 203.35,33.43 204.80,33.50 C206.25,33.57 207.75,33.90 209.20,34.30 C210.65,34.70 212.23,35.27 213.50,35.90 C214.77,36.53 215.33,37.18 216.80,38.10 C218.27,39.02 220.48,40.32 222.30,41.40 C224.12,42.48 225.88,43.48 227.70,44.60 C229.52,45.72 231.38,46.92 233.20,48.10 C235.02,49.28 237.15,50.73 238.60,51.70 C240.05,52.67 240.80,52.98 241.90,53.90 C243.00,54.82 244.12,56.12 245.20,57.20 C246.28,58.28 247.50,59.05 248.40,60.40 C249.30,61.75 249.95,63.72 250.60,65.30 C251.25,66.88 251.82,68.28 252.30,69.90 C252.78,71.52 253.10,73.27 253.50,75.00 C253.90,76.73 254.20,76.47 254.70,80.30 L256.50,98.00 L259.40,82.90 L260.60,74.00 L262.30,83.60 L263.30,80.70 L264.40,94.40 L265.50,101.70 L264.00,106.00 L267.60,103.40 L268.80,110.00 L269.50,106.00 L270.20,118.00 L270.40,127.60" fill="none" stroke="#ff0000" stroke-width="1.7" stroke-linejoin="round"/>
<path d="M332.90,76.80 C335.75,76.85 343.68,77.00 350.00,77.10 C356.32,77.20 364.97,77.42 370.80,77.40 C376.63,77.38 380.97,77.12 385.00,77.00 C389.03,76.88 392.23,76.80 395.00,76.70 C397.77,76.60 399.40,76.60 401.60,76.40 C403.80,76.20 406.00,75.98 408.20,75.50 C410.40,75.02 412.60,74.45 414.80,73.50 C417.00,72.55 419.20,71.33 421.40,69.80 C423.60,68.27 425.82,66.38 428.00,64.30 C430.18,62.22 432.32,59.57 434.50,57.30 C436.68,55.03 438.90,52.62 441.10,50.70 C443.30,48.78 445.50,47.23 447.70,45.80 C449.90,44.37 452.25,43.20 454.30,42.10 C456.35,41.00 458.13,40.08 460.00,39.20 C461.87,38.32 463.68,37.62 465.50,36.80 C467.32,35.98 469.08,35.00 470.90,34.30 C472.72,33.60 474.58,32.88 476.40,32.60 C478.22,32.32 479.98,32.27 481.80,32.60 C483.62,32.93 485.48,33.83 487.30,34.60 C489.12,35.37 490.88,36.25 492.70,37.20 C494.52,38.15 496.38,39.25 498.20,40.30 C500.02,41.35 502.33,42.50 503.60,43.50 C504.87,44.50 504.88,45.02 505.80,46.30 C506.72,47.58 508.02,49.48 509.10,51.20 C510.18,52.92 511.40,54.97 512.30,56.60 C513.20,58.23 513.77,59.37 514.50,61.00 C515.23,62.63 516.00,64.22 516.70,66.40 L518.70,74.10 L519.90,80.00 L520.60,85.10 L522.60,75.80 L524.50,87.70 L526.50,90.30 L529.20,100.90 L531.80,104.90 L533.00,112.00" fill="none" stroke="#000" stroke-width="1.7" stroke-linejoin="round"/>
<path d="M332.90,40.90 C335.75,40.92 343.68,40.97 350.00,41.00 C356.32,41.03 364.97,41.00 370.80,41.10 C376.63,41.20 380.97,41.47 385.00,41.60 C389.03,41.73 391.13,41.75 395.00,41.90 C398.87,42.05 403.80,42.23 408.20,42.50 C412.60,42.77 417.02,43.23 421.40,43.50 C425.78,43.77 430.55,44.07 434.50,44.10 C438.45,44.13 442.45,44.03 445.10,43.70 C447.75,43.37 448.65,42.75 450.40,42.10 C452.15,41.45 454.00,40.43 455.60,39.80 C457.20,39.17 458.35,38.95 460.00,38.30 C461.65,37.65 463.68,36.70 465.50,35.90 C467.32,35.10 469.08,34.13 470.90,33.50 C472.72,32.87 474.58,32.28 476.40,32.10 C478.22,31.92 479.98,32.03 481.80,32.40 C483.62,32.77 485.48,33.57 487.30,34.30 C489.12,35.03 490.88,35.90 492.70,36.80 C494.52,37.70 496.38,38.67 498.20,39.70 C500.02,40.73 502.15,41.90 503.60,43.00 C505.05,44.10 505.90,45.48 506.90,46.30 C507.90,47.12 508.70,46.55 509.60,47.90 L512.30,54.40 L515.10,62.10 L517.30,69.90 L519.30,73.20 L522.60,63.30 L523.90,73.20 L525.20,69.20 L525.90,83.70 L528.50,91.00 L530.50,85.00 L531.80,103.50 L532.80,108.00" fill="none" stroke="#ff0000" stroke-width="1.7" stroke-linejoin="round"/>
<path d="M70.60,153.50 C73.83,153.55 84.13,153.72 90.00,153.80 C95.87,153.88 100.02,153.83 105.80,154.00 C111.58,154.17 119.00,154.60 124.70,154.80 C130.40,155.00 135.63,154.92 140.00,155.20 C144.37,155.48 147.27,156.10 150.90,156.50 C154.53,156.90 158.17,157.23 161.80,157.60 C165.43,157.97 169.07,158.37 172.70,158.70 C176.33,159.03 180.87,159.45 183.60,159.60 C186.33,159.75 187.28,159.75 189.10,159.60 C190.92,159.45 192.60,159.03 194.50,158.70 C196.40,158.37 198.60,157.87 200.50,157.60 C202.40,157.33 204.08,156.92 205.90,157.10 C207.72,157.28 209.58,157.97 211.40,158.70 C213.22,159.43 214.98,160.55 216.80,161.50 C218.62,162.45 220.48,163.32 222.30,164.40 C224.12,165.48 225.88,166.58 227.70,168.00 C229.52,169.42 231.38,171.27 233.20,172.90 C235.02,174.53 236.97,176.25 238.60,177.80 C240.23,179.35 241.72,180.83 243.00,182.20 C244.28,183.57 245.40,184.65 246.30,186.00 C247.20,187.35 247.77,188.82 248.40,190.30 C249.03,191.78 249.33,193.27 250.10,194.90 C250.87,196.53 252.05,197.78 253.00,200.10 C253.95,202.42 255.18,205.33 255.80,208.80 L256.70,220.90 L258.10,211.20 L260.30,206.90 L261.90,211.20 L263.50,216.00 L265.10,222.00 L266.20,229.60 L267.80,231.70 L269.50,230.00 L270.60,236.00" fill="none" stroke="#000" stroke-width="1.7" stroke-linejoin="round"/>
<path d="M70.60,184.10 C73.83,184.10 83.43,184.10 90.00,184.10 C96.57,184.10 104.22,184.12 110.00,184.10 C115.78,184.08 119.70,184.13 124.70,184.00 C129.70,183.87 136.53,183.52 140.00,183.30 C143.47,183.08 143.68,182.95 145.50,182.70 C147.32,182.45 149.08,182.17 150.90,181.80 C152.72,181.43 154.58,181.12 156.40,180.50 C158.22,179.88 159.98,179.10 161.80,178.10 C163.62,177.10 165.48,175.82 167.30,174.50 C169.12,173.18 170.88,171.73 172.70,170.20 C174.52,168.67 176.38,166.85 178.20,165.30 C180.02,163.75 181.78,162.18 183.60,160.90 C185.42,159.62 187.28,158.37 189.10,157.60 C190.92,156.83 192.60,156.48 194.50,156.30 C196.40,156.12 198.60,156.37 200.50,156.50 C202.40,156.63 204.08,156.63 205.90,157.10 C207.72,157.57 209.58,158.52 211.40,159.30 C213.22,160.08 214.98,160.90 216.80,161.80 C218.62,162.70 220.48,163.62 222.30,164.70 C224.12,165.78 225.88,167.02 227.70,168.30 C229.52,169.58 231.38,170.95 233.20,172.40 C235.02,173.85 236.97,175.55 238.60,177.00 C240.23,178.45 241.90,180.15 243.00,181.10 C244.10,182.05 244.48,181.88 245.20,182.70 C245.92,183.52 246.58,184.55 247.30,186.00 C248.02,187.45 248.85,189.92 249.50,191.40 C250.15,192.88 250.62,193.45 251.20,194.90 C251.78,196.35 252.47,198.03 253.00,200.10 C253.53,202.17 253.73,205.08 254.40,207.30 L257.00,213.40 L260.30,211.20 L263.00,200.40 L264.00,225.80 L265.00,213.00 L266.20,222.00 L267.30,216.00 L268.20,226.00 L269.40,219.00 L270.50,228.00" fill="none" stroke="#ff0000" stroke-width="1.7" stroke-linejoin="round"/>
<path d="M332.90,193.70 C335.75,193.73 343.68,193.82 350.00,193.90 C356.32,193.98 364.13,194.12 370.80,194.20 C377.47,194.28 384.30,194.35 390.00,194.40 C395.70,194.45 401.30,194.57 405.00,194.50 C408.70,194.43 409.80,194.32 412.20,194.00 C414.60,193.68 417.00,193.43 419.40,192.60 C421.80,191.77 424.20,190.43 426.60,189.00 C429.00,187.57 431.40,185.80 433.80,184.00 C436.20,182.20 438.60,180.20 441.00,178.20 C443.40,176.20 445.80,174.05 448.20,172.00 C450.60,169.95 453.00,167.98 455.40,165.90 C457.80,163.82 460.20,161.65 462.60,159.50 C465.00,157.35 467.67,154.60 469.80,153.00 C471.93,151.40 473.57,150.92 475.40,149.90 C477.23,148.88 479.37,147.48 480.80,146.90 C482.23,146.32 482.57,146.08 484.00,146.40 C485.43,146.72 487.77,147.87 489.40,148.80 C491.03,149.73 492.35,150.73 493.80,152.00 C495.25,153.27 496.85,154.95 498.10,156.40 C499.35,157.85 500.22,159.08 501.30,160.70 C502.38,162.32 503.70,164.48 504.60,166.10 C505.50,167.72 505.98,169.37 506.70,170.40 C507.42,171.43 508.18,171.93 508.90,172.30 C509.62,172.67 510.28,172.28 511.00,172.60 C511.72,172.92 512.47,173.40 513.20,174.20 C513.93,175.00 514.68,176.32 515.40,177.40 C516.12,178.48 516.78,178.57 517.50,180.70 L519.70,190.20 L520.50,184.30 L523.90,192.70 L526.00,172.00 L527.00,188.00 L530.20,187.70 L531.80,181.80 L532.80,190.00" fill="none" stroke="#000" stroke-width="1.7" stroke-linejoin="round"/>
<path d="M332.90,164.00 C335.75,164.00 343.68,164.00 350.00,164.00 C356.32,164.00 364.13,163.93 370.80,164.00 C377.47,164.07 384.30,164.27 390.00,164.40 C395.70,164.53 400.10,164.78 405.00,164.80 C409.90,164.82 415.80,164.67 419.40,164.50 C423.00,164.33 424.20,164.17 426.60,163.80 C429.00,163.43 431.40,163.02 433.80,162.30 C436.20,161.58 438.60,160.45 441.00,159.50 C443.40,158.55 445.80,157.50 448.20,156.60 C450.60,155.70 453.00,154.75 455.40,154.10 C457.80,153.45 460.17,153.13 462.60,152.70 C465.03,152.27 467.87,152.15 470.00,151.50 C472.13,150.85 473.60,149.70 475.40,148.80 C477.20,147.90 479.37,146.82 480.80,146.10 C482.23,145.38 482.57,144.73 484.00,144.50 C485.43,144.27 487.77,144.57 489.40,144.70 C491.03,144.83 492.35,144.88 493.80,145.30 C495.25,145.72 496.85,146.43 498.10,147.20 C499.35,147.97 500.22,148.73 501.30,149.90 C502.38,151.07 503.70,152.67 504.60,154.20 L506.70,159.10 L508.30,161.20 L508.90,165.00 L511.00,169.30 L513.20,173.60 L516.40,176.90 L518.40,176.80 L519.70,174.20 L520.50,184.30 L521.80,175.10 L522.60,181.80 L523.40,191.00 L524.70,175.10 L525.50,171.70 L526.80,190.20 L528.10,181.80 L529.70,177.60 L531.00,190.20 L531.80,181.80 L532.80,186.00" fill="none" stroke="#ff0000" stroke-width="1.7" stroke-linejoin="round"/>
<path d="M70.60,294.60 C73.83,294.67 84.13,294.88 90.00,295.00 C95.87,295.12 99.97,295.23 105.80,295.30 C111.63,295.37 119.30,295.38 125.00,295.40 C130.70,295.42 135.68,295.45 140.00,295.40 C144.32,295.35 148.17,295.27 150.90,295.10 C153.63,294.93 154.58,294.83 156.40,294.40 C158.22,293.97 159.98,293.37 161.80,292.50 C163.62,291.63 165.48,290.53 167.30,289.20 C169.12,287.87 170.88,286.18 172.70,284.50 C174.52,282.82 176.38,280.82 178.20,279.10 C180.02,277.38 181.78,275.65 183.60,274.20 C185.42,272.75 187.28,271.50 189.10,270.40 C190.92,269.30 192.60,268.35 194.50,267.60 C196.40,266.85 198.60,266.27 200.50,265.90 C202.40,265.53 204.08,265.40 205.90,265.40 C207.72,265.40 209.58,265.60 211.40,265.90 C213.22,266.20 214.98,266.80 216.80,267.20 C218.62,267.60 220.48,267.07 222.30,268.30 L227.70,274.60 L232.10,279.50 L236.40,285.50 L238.60,286.60 L240.30,284.40 L243.00,286.10 L245.20,287.70 L248.40,292.10 L250.60,293.20 L251.70,298.60 L252.60,304.00 L255.80,324.60 L258.50,325.60 L260.90,306.20 L262.20,321.00 L263.80,298.00 L265.70,322.00 L267.70,332.60 L269.50,340.00" fill="none" stroke="#000" stroke-width="1.7" stroke-linejoin="round"/>
<path d="M70.60,270.40 C73.83,270.45 84.13,270.60 90.00,270.70 C95.87,270.80 99.97,270.90 105.80,271.00 C111.63,271.10 119.30,271.22 125.00,271.30 C130.70,271.38 135.68,271.30 140.00,271.50 C144.32,271.70 147.27,272.20 150.90,272.50 C154.53,272.80 158.17,273.17 161.80,273.30 C165.43,273.43 169.97,273.43 172.70,273.30 C175.43,273.17 176.38,272.90 178.20,272.50 C180.02,272.10 181.78,271.50 183.60,270.90 C185.42,270.30 187.28,269.53 189.10,268.90 C190.92,268.27 192.60,267.68 194.50,267.10 C196.40,266.52 198.60,265.78 200.50,265.40 C202.40,265.02 204.08,264.72 205.90,264.80 C207.72,264.88 209.58,265.17 211.40,265.90 C213.22,266.63 214.98,267.93 216.80,269.20 C218.62,270.47 220.48,271.72 222.30,273.50 C224.12,275.28 225.88,277.98 227.70,279.90 C229.52,281.82 231.38,283.37 233.20,285.00 C235.02,286.63 237.25,288.70 238.60,289.70 C239.95,290.70 240.57,291.33 241.30,291.00 L243.00,287.70 L244.10,286.10 L246.30,288.80 L248.40,294.30 L250.60,300.00 L253.60,314.80 L255.20,329.70 L256.60,325.90 L257.50,333.00 L258.50,322.00 L259.50,336.00 L260.90,314.40 L261.70,333.00 L262.50,318.00 L263.30,315.30 L264.20,338.00 L265.30,319.20 L266.50,330.00 L267.50,342.00 L268.60,336.40 L269.50,348.00 L270.40,361.70" fill="none" stroke="#ff0000" stroke-width="1.7" stroke-linejoin="round"/>
<path d="M332.90,283.60 C335.75,283.65 343.68,283.80 350.00,283.90 C356.32,284.00 364.13,284.08 370.80,284.20 C377.47,284.32 384.30,284.50 390.00,284.60 C395.70,284.70 400.30,284.73 405.00,284.80 C409.70,284.87 413.80,285.13 418.20,285.00 C422.60,284.87 428.10,284.38 431.40,284.00 C434.70,283.62 435.82,283.18 438.00,282.70 C440.18,282.22 442.32,281.63 444.50,281.10 C446.68,280.57 448.90,280.05 451.10,279.50 C453.30,278.95 455.50,278.45 457.70,277.80 C459.90,277.15 462.25,276.47 464.30,275.60 C466.35,274.73 468.15,273.55 470.00,272.60 C471.85,271.65 473.60,270.72 475.40,269.90 C477.20,269.08 479.37,268.25 480.80,267.70 C482.23,267.15 482.57,266.63 484.00,266.60 C485.43,266.57 487.77,267.17 489.40,267.50 C491.03,267.83 492.35,268.07 493.80,268.60 C495.25,269.13 496.67,270.03 498.10,270.70 C499.53,271.37 501.15,271.75 502.40,272.60 L505.60,275.80 L507.80,279.60 L511.00,280.70 L513.20,283.90 L515.40,289.30 L517.50,293.60 L519.70,286.60 L521.80,292.80 L524.80,283.60 L526.90,299.90 L529.90,296.80 L532.50,302.00" fill="none" stroke="#000" stroke-width="1.7" stroke-linejoin="round"/>
<path d="M332.90,311.70 C335.75,311.73 343.68,311.83 350.00,311.90 C356.32,311.97 363.93,312.13 370.80,312.10 C377.67,312.07 385.50,311.97 391.20,311.70 C396.90,311.43 401.60,310.88 405.00,310.50 C408.40,310.12 409.40,309.87 411.60,309.40 C413.80,308.93 416.00,308.47 418.20,307.70 C420.40,306.93 422.60,305.93 424.80,304.80 C427.00,303.67 429.20,302.48 431.40,300.90 C433.60,299.32 435.82,297.33 438.00,295.30 C440.18,293.27 442.32,290.85 444.50,288.70 C446.68,286.55 448.90,284.43 451.10,282.40 C453.30,280.37 455.50,278.25 457.70,276.50 C459.90,274.75 462.25,273.10 464.30,271.90 C466.35,270.70 468.15,269.90 470.00,269.30 C471.85,268.70 473.60,268.70 475.40,268.30 C477.20,267.90 479.37,267.18 480.80,266.90 C482.23,266.62 482.57,266.50 484.00,266.60 C485.43,266.70 487.77,267.13 489.40,267.50 C491.03,267.87 492.35,268.18 493.80,268.80 C495.25,269.42 496.67,270.22 498.10,271.20 C499.53,272.18 501.15,273.48 502.40,274.70 C503.65,275.92 504.70,278.05 505.60,278.50 L507.80,277.40 L510.00,280.70 L513.20,287.20 L516.40,293.60 L518.60,299.00 L520.70,292.80 L522.80,296.80 L525.80,301.90 L527.90,296.80 L529.90,305.00 L532.50,302.00" fill="none" stroke="#ff0000" stroke-width="1.7" stroke-linejoin="round"/>
<g stroke="#000" stroke-width="0.12">
<g transform="translate(51.40,102.80)"><text font-size="10.0">-13</text></g>
<g transform="translate(36.66,112.45) scale(0.9379,1.0000)"><text font-size="14.5">10</text></g>
<g transform="translate(51.40,58.80)"><text font-size="10.0">-12</text></g>
<g transform="translate(36.66,68.45) scale(0.9379,1.0000)"><text font-size="14.5">10</text></g>
<g transform="translate(52.15,14.80)"><text font-size="10.0">-11</text></g>
<g transform="translate(37.41,24.45) scale(0.9379,1.0000)"><text font-size="14.5">10</text></g>
<g transform="translate(313.20,102.70)"><text font-size="10.0">-13</text></g>
<g transform="translate(298.46,112.35) scale(0.9379,1.0000)"><text font-size="14.5">10</text></g>
<g transform="translate(313.20,58.90)"><text font-size="10.0">-12</text></g>
<g transform="translate(298.46,68.55) scale(0.9379,1.0000)"><text font-size="14.5">10</text></g>
<g transform="translate(313.95,15.10)"><text font-size="10.0">-11</text></g>
<g transform="translate(299.21,24.75) scale(0.9379,1.0000)"><text font-size="14.5">10</text></g>
<g transform="translate(51.15,251.70)"><text font-size="10.0">-14</text></g>
<g transform="translate(36.41,261.35) scale(0.9379,1.0000)"><text font-size="14.5">10</text></g>
<g transform="translate(51.40,210.90)"><text font-size="10.0">-13</text></g>
<g transform="translate(36.66,220.55) scale(0.9379,1.0000)"><text font-size="14.5">10</text></g>
<g transform="translate(51.40,170.10)"><text font-size="10.0">-12</text></g>
<g transform="translate(36.66,179.75) scale(0.9379,1.0000)"><text font-size="14.5">10</text></g>
<g transform="translate(312.95,250.00)"><text font-size="10.0">-14</text></g>
<g transform="translate(298.21,259.65) scale(0.9379,1.0000)"><text font-size="14.5">10</text></g>
<g transform="translate(313.20,202.80)"><text font-size="10.0">-13</text></g>
<g transform="translate(298.46,212.45) scale(0.9379,1.0000)"><text font-size="14.5">10</text></g>
<g transform="translate(313.20,155.60)"><text font-size="10.0">-12</text></g>
<g transform="translate(298.46,165.25) scale(0.9379,1.0000)"><text font-size="14.5">10</text></g>
<g transform="translate(51.40,347.40)"><text font-size="10.0">-13</text></g>
<g transform="translate(36.66,357.05) scale(0.9379,1.0000)"><text font-size="14.5">10</text></g>
<g transform="translate(51.40,273.80)"><text font-size="10.0">-12</text></g>
<g transform="translate(36.66,283.45) scale(0.9379,1.0000)"><text font-size="14.5">10</text></g>
<g transform="translate(58.58,392.20) scale(0.9655,1)"><text font-size="14.5">10</text></g>
<g transform="translate(73.35,382.80)"><text font-size="10.0">-6</text></g>
<g transform="translate(108.88,392.20) scale(0.9655,1)"><text font-size="14.5">10</text></g>
<g transform="translate(123.65,382.80)"><text font-size="10.0">-4</text></g>
<g transform="translate(159.18,392.20) scale(0.9655,1)"><text font-size="14.5">10</text></g>
<g transform="translate(173.95,382.80)"><text font-size="10.0">-2</text></g>
<g transform="translate(210.98,392.20) scale(0.9655,1)"><text font-size="14.5">10</text></g>
<g transform="translate(226.00,382.80)"><text font-size="10.0">0</text></g>
<g transform="translate(261.53,392.20) scale(0.9655,1)"><text font-size="14.5">10</text></g>
<g transform="translate(276.30,382.80)"><text font-size="10.0">2</text></g>
<g transform="translate(312.95,351.30)"><text font-size="10.0">-14</text></g>
<g transform="translate(298.21,360.95) scale(0.9379,1.0000)"><text font-size="14.5">10</text></g>
<g transform="translate(313.20,316.55)"><text font-size="10.0">-13</text></g>
<g transform="translate(298.46,326.20) scale(0.9379,1.0000)"><text font-size="14.5">10</text></g>
<g transform="translate(313.20,281.80)"><text font-size="10.0">-12</text></g>
<g transform="translate(298.46,291.45) scale(0.9379,1.0000)"><text font-size="14.5">10</text></g>
<g transform="translate(320.88,392.20) scale(0.9655,1)"><text font-size="14.5">10</text></g>
<g transform="translate(335.65,382.80)"><text font-size="10.0">-6</text></g>
<g transform="translate(371.16,392.20) scale(0.9655,1)"><text font-size="14.5">10</text></g>
<g transform="translate(385.93,382.80)"><text font-size="10.0">-4</text></g>
<g transform="translate(421.43,392.20) scale(0.9655,1)"><text font-size="14.5">10</text></g>
<g transform="translate(436.20,382.80)"><text font-size="10.0">-2</text></g>
<g transform="translate(473.21,392.20) scale(0.9655,1)"><text font-size="14.5">10</text></g>
<g transform="translate(488.23,382.80)"><text font-size="10.0">0</text></g>
<g transform="translate(523.73,392.20) scale(0.9655,1)"><text font-size="14.5">10</text></g>
<g transform="translate(538.50,382.80)"><text font-size="10.0">2</text></g>
<g transform="translate(83.70,94.70) scale(0.9571,1.0000)"><text x="0" y="0" font-size="14.0">v</text></g>
<g transform="translate(91.01,91.00) scale(0.7556,0.5333)"><text x="0" y="0" font-size="14.0" stroke="#000" stroke-width="0.35">&#8242;</text></g>
<g transform="translate(93.39,94.70) scale(1.0815,1.0000)"><text x="0" y="0" font-size="14.0">=</text></g>
<g transform="translate(106.18,94.70) scale(1.0370,1.0000)"><text x="0" y="0" font-size="14.0">0</text></g>
<g transform="translate(116.85,94.70)"><text x="0" y="0" font-size="14.0">,</text></g>
<g transform="translate(126.50,94.70) scale(1.2000,1.0000)"><text x="0" y="0" font-size="14.0">j</text></g>
<g transform="translate(131.20,91.00) scale(0.8000,0.5333)"><text x="0" y="0" font-size="14.0" stroke="#000" stroke-width="0.35">&#8242;</text></g>
<g transform="translate(134.13,94.70) scale(1.1556,1.0000)"><text x="0" y="0" font-size="14.0">=</text></g>
<g transform="translate(146.90,94.70) scale(0.8000,1.0000)"><text x="0" y="0" font-size="14.0">1</text></g>
<g transform="translate(345.60,110.90) scale(0.9571,1.0000)"><text x="0" y="0" font-size="14.0">v</text></g>
<g transform="translate(352.91,107.20) scale(0.7556,0.5333)"><text x="0" y="0" font-size="14.0" stroke="#000" stroke-width="0.35">&#8242;</text></g>
<g transform="translate(355.29,110.90) scale(1.0815,1.0000)"><text x="0" y="0" font-size="14.0">=</text></g>
<g transform="translate(368.08,110.90) scale(1.0370,1.0000)"><text x="0" y="0" font-size="14.0">0</text></g>
<g transform="translate(378.75,110.90)"><text x="0" y="0" font-size="14.0">,</text></g>
<g transform="translate(388.40,110.90) scale(1.2000,1.0000)"><text x="0" y="0" font-size="14.0">j</text></g>
<g transform="translate(393.10,107.20) scale(0.8000,0.5333)"><text x="0" y="0" font-size="14.0" stroke="#000" stroke-width="0.35">&#8242;</text></g>
<g transform="translate(396.03,110.90) scale(1.1556,1.0000)"><text x="0" y="0" font-size="14.0">=</text></g>
<g transform="translate(409.16,110.90) scale(0.8741,1.0000)"><text x="0" y="0" font-size="14.0">3</text></g>
<g transform="translate(84.00,227.00) scale(0.9571,1.0000)"><text x="0" y="0" font-size="14.0">v</text></g>
<g transform="translate(91.31,223.30) scale(0.7556,0.5333)"><text x="0" y="0" font-size="14.0" stroke="#000" stroke-width="0.35">&#8242;</text></g>
<g transform="translate(93.69,227.00) scale(1.0815,1.0000)"><text x="0" y="0" font-size="14.0">=</text></g>
<g transform="translate(105.80,227.00) scale(0.8000,1.0000)"><text x="0" y="0" font-size="14.0">1</text></g>
<g transform="translate(117.15,227.00)"><text x="0" y="0" font-size="14.0">,</text></g>
<g transform="translate(126.80,227.00) scale(1.2000,1.0000)"><text x="0" y="0" font-size="14.0">j</text></g>
<g transform="translate(131.50,223.30) scale(0.8000,0.5333)"><text x="0" y="0" font-size="14.0" stroke="#000" stroke-width="0.35">&#8242;</text></g>
<g transform="translate(134.43,227.00) scale(1.1556,1.0000)"><text x="0" y="0" font-size="14.0">=</text></g>
<g transform="translate(147.20,227.00) scale(0.8000,1.0000)"><text x="0" y="0" font-size="14.0">1</text></g>
<g transform="translate(345.00,228.50) scale(0.9571,1.0000)"><text x="0" y="0" font-size="14.0">v</text></g>
<g transform="translate(352.31,224.80) scale(0.7556,0.5333)"><text x="0" y="0" font-size="14.0" stroke="#000" stroke-width="0.35">&#8242;</text></g>
<g transform="translate(354.69,228.50) scale(1.0815,1.0000)"><text x="0" y="0" font-size="14.0">=</text></g>
<g transform="translate(366.80,228.50) scale(0.8000,1.0000)"><text x="0" y="0" font-size="14.0">1</text></g>
<g transform="translate(378.15,228.50)"><text x="0" y="0" font-size="14.0">,</text></g>
<g transform="translate(387.80,228.50) scale(1.2000,1.0000)"><text x="0" y="0" font-size="14.0">j</text></g>
<g transform="translate(392.50,224.80) scale(0.8000,0.5333)"><text x="0" y="0" font-size="14.0" stroke="#000" stroke-width="0.35">&#8242;</text></g>
<g transform="translate(395.43,228.50) scale(1.1556,1.0000)"><text x="0" y="0" font-size="14.0">=</text></g>
<g transform="translate(408.20,228.50) scale(0.8000,1.0000)"><text x="0" y="0" font-size="14.0">1</text></g>
<g transform="translate(415.10,228.50) scale(0.9926,1.0000)"><text x="0" y="0" font-size="14.0">5</text></g>
<g transform="translate(82.90,352.20) scale(0.9571,1.0000)"><text x="0" y="0" font-size="14.0">v</text></g>
<g transform="translate(90.21,348.50) scale(0.7556,0.5333)"><text x="0" y="0" font-size="14.0" stroke="#000" stroke-width="0.35">&#8242;</text></g>
<g transform="translate(92.59,352.20) scale(1.0815,1.0000)"><text x="0" y="0" font-size="14.0">=</text></g>
<g transform="translate(105.46,352.20) scale(0.8741,1.0000)"><text x="0" y="0" font-size="14.0">3</text></g>
<g transform="translate(116.05,352.20)"><text x="0" y="0" font-size="14.0">,</text></g>
<g transform="translate(125.70,352.20) scale(1.2000,1.0000)"><text x="0" y="0" font-size="14.0">j</text></g>
<g transform="translate(130.40,348.50) scale(0.8000,0.5333)"><text x="0" y="0" font-size="14.0" stroke="#000" stroke-width="0.35">&#8242;</text></g>
<g transform="translate(133.33,352.20) scale(1.1556,1.0000)"><text x="0" y="0" font-size="14.0">=</text></g>
<g transform="translate(146.10,352.20) scale(0.8000,1.0000)"><text x="0" y="0" font-size="14.0">1</text></g>
<g transform="translate(353.80,350.50) scale(0.9571,1.0000)"><text x="0" y="0" font-size="14.0">v</text></g>
<g transform="translate(361.11,346.80) scale(0.7556,0.5333)"><text x="0" y="0" font-size="14.0" stroke="#000" stroke-width="0.35">&#8242;</text></g>
<g transform="translate(363.49,350.50) scale(1.0815,1.0000)"><text x="0" y="0" font-size="14.0">=</text></g>
<g transform="translate(376.36,350.50) scale(0.8741,1.0000)"><text x="0" y="0" font-size="14.0">3</text></g>
<g transform="translate(386.95,350.50)"><text x="0" y="0" font-size="14.0">,</text></g>
<g transform="translate(396.60,350.50) scale(1.2000,1.0000)"><text x="0" y="0" font-size="14.0">j</text></g>
<g transform="translate(401.30,346.80) scale(0.8000,0.5333)"><text x="0" y="0" font-size="14.0" stroke="#000" stroke-width="0.35">&#8242;</text></g>
<g transform="translate(404.23,350.50) scale(1.1556,1.0000)"><text x="0" y="0" font-size="14.0">=</text></g>
<g transform="translate(417.36,350.50) scale(0.8741,1.0000)"><text x="0" y="0" font-size="14.0">3</text></g>
<g transform="translate(83.79,120.60) scale(0.8348,1.0000)"><text x="0" y="0" font-size="14.0">J</text></g>
<g transform="translate(92.33,120.60) scale(1.1556,1.0000)"><text x="0" y="0" font-size="14.0">=</text></g>
<g transform="translate(104.46,120.60) scale(0.8741,1.0000)"><text x="0" y="0" font-size="14.0">0</text></g>
<g transform="translate(111.14,120.60) scale(0.9143,1.0000)"><text x="0" y="0" font-size="14.0">-</text></g>
<g transform="translate(115.91,120.60) scale(0.9778,1.0000)"><text x="0" y="0" font-size="14.0">5</text></g>
<g transform="translate(221.30,90.45) scale(0.9963,1.0105)"><text x="0" y="0" font-size="13.2">NGP</text></g>
<g transform="translate(222.01,115.14) scale(0.9183,1.0421)"><text x="0" y="0" font-size="13.2">GP</text></g>
<g transform="translate(246.26,33.02) scale(0.9871,0.9283)"><text x="0" y="0" font-size="14.0">(a)</text></g>
<g transform="translate(507.31,33.62) scale(1.0581,0.9585)"><text x="0" y="0" font-size="14.0">(b)</text></g>
<g transform="translate(243.76,153.72) scale(0.9831,0.9585)"><text x="0" y="0" font-size="14.0">(c)</text></g>
<g transform="translate(505.81,149.82) scale(1.0581,0.9283)"><text x="0" y="0" font-size="14.0">(d)</text></g>
<g transform="translate(244.74,268.63) scale(1.0129,0.9887)"><text x="0" y="0" font-size="14.0">(e)</text></g>
<g transform="translate(509.16,267.56) scale(0.9872,0.9811)"><text x="0" y="0" font-size="14.0">(f)</text></g>
<g transform="translate(128.71,409.40) scale(1.0357,1.0000)"><text x="0" y="0" font-size="16.0">Energy (K)</text></g>
<g transform="translate(391.12,409.20) scale(1.0276,1.0000)"><text x="0" y="0" font-size="16.0">Energy (K)</text></g>
<g transform="translate(28.2,264) rotate(-90) translate(-1.56,0.00) scale(0.9294,1.0000)"><text x="0" y="0" font-size="17">Rate</text></g>
<g transform="translate(28.2,264) rotate(-90) translate(40.52,0.00) scale(1.0423,1.0000)"><text x="0" y="0" font-size="17">Coefficient</text></g>
<g transform="translate(28.2,264) rotate(-90) translate(129.29,-0.86) scale(0.7111,0.9587)"><text x="0" y="0" font-size="17">(</text></g>
<g transform="translate(28.2,264) rotate(-90) translate(133.72,0.00) scale(1.0361,1.0000)"><text x="0" y="0" font-size="17">cm</text></g>
<g transform="translate(28.2,264) rotate(-90) translate(156.08,-11.96) scale(0.8381,1.0250)"><text x="0" y="0" font-size="11">3</text></g>
<g transform="translate(28.2,264) rotate(-90) translate(166.81,0.00) scale(0.7733,1.0000)"><text x="0" y="0" font-size="17">s</text></g>
<g transform="translate(28.2,264) rotate(-90) translate(173.93,-11.70) scale(0.9371,1.0933)"><text x="0" y="0" font-size="11">-1</text></g>
<g transform="translate(28.2,264) rotate(-90) translate(185.29,-1.61) scale(0.8444,0.9460)"><text x="0" y="0" font-size="17">)</text></g>
</g>
</svg>
</body></html>
